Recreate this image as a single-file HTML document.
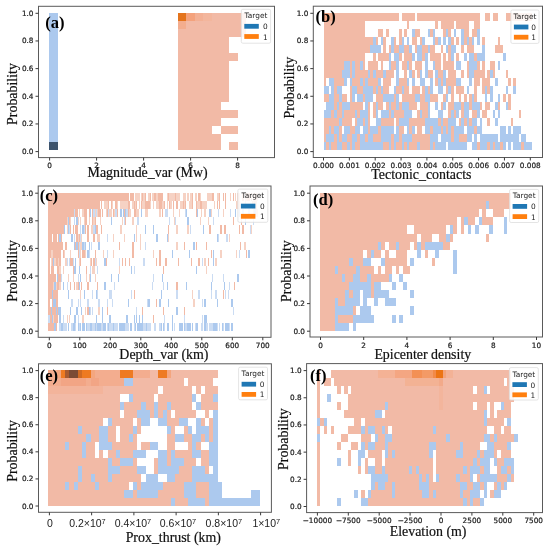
<!DOCTYPE html>
<html><head><meta charset="utf-8"><title>Probability histograms</title>
<style>html,body{margin:0;padding:0;background:#fff;}svg{display:block;filter:blur(0.3px);}</style></head>
<body><svg width="549" height="550" viewBox="0 0 549 550">
<rect width="549" height="550" fill="#fff"/>
<path shape-rendering="crispEdges" fill="#e4741c" d="M177.80 12.90h8.55v8.09h-8.55z"/>
<path shape-rendering="crispEdges" fill="#f4a27c" d="M186.35 12.90h8.55v8.09h-8.55z"/>
<path shape-rendering="crispEdges" fill="#f3b094" d="M194.90 12.90h8.55v8.09h-8.55z"/>
<path shape-rendering="crispEdges" fill="#f3b69d" d="M203.45 12.90h8.55v8.09h-8.55z"/>
<path shape-rendering="crispEdges" fill="#f2baa6" d="M212.00 12.90h34.20v8.09h-34.20zM186.35 20.99h59.85v8.09h-59.85zM177.80 29.08h68.40v8.09h-68.40zM177.80 37.17h51.30v8.09h-51.30zM177.80 45.26h51.30v8.09h-51.30zM177.80 53.35h59.85v8.09h-59.85zM177.80 61.44h51.30v8.09h-51.30zM177.80 69.53h51.30v8.09h-51.30zM177.80 77.62h51.30v8.09h-51.30zM177.80 85.71h51.30v8.09h-51.30zM177.80 93.80h51.30v8.09h-51.30zM177.80 101.89h42.75v8.09h-42.75zM177.80 109.98h59.85v8.09h-59.85zM177.80 118.07h42.75v8.09h-42.75zM177.80 126.16h34.20v8.09h-34.20zM220.55 126.16h17.10v8.09h-17.10zM177.80 134.25h42.75v8.09h-42.75zM177.80 142.34h42.75v8.09h-42.75zM229.10 142.34h8.55v8.09h-8.55z"/>
<path shape-rendering="crispEdges" fill="#f3ad8e" d="M177.80 20.99h8.55v8.09h-8.55z"/>
<path shape-rendering="crispEdges" fill="#acc9ee" d="M49.20 12.90h8.80v8.09h-8.80zM49.20 20.99h8.80v8.09h-8.80zM49.20 29.08h8.80v8.09h-8.80zM49.20 37.17h8.80v8.09h-8.80zM49.20 45.26h8.80v8.09h-8.80zM49.20 53.35h8.80v8.09h-8.80zM49.20 61.44h8.80v8.09h-8.80zM49.20 69.53h8.80v8.09h-8.80zM49.20 77.62h8.80v8.09h-8.80zM49.20 85.71h8.80v8.09h-8.80zM49.20 93.80h8.80v8.09h-8.80zM49.20 101.89h8.80v8.09h-8.80zM49.20 109.98h8.80v8.09h-8.80zM49.20 118.07h8.80v8.09h-8.80zM49.20 126.16h8.80v8.09h-8.80zM49.20 134.25h8.80v8.09h-8.80z"/>
<path shape-rendering="crispEdges" fill="#3d546e" d="M49.20 142.34h8.80v8.09h-8.80z"/>
<path shape-rendering="crispEdges" fill="#f2baa6" d="M323.50 12.90h75.40v8.09h-75.40zM401.50 12.90h13.00v8.09h-13.00zM417.10 12.90h62.40v8.09h-62.40zM484.70 12.90h5.20v8.09h-5.20zM492.50 12.90h5.20v8.09h-5.20zM505.50 12.90h26.00v8.09h-26.00zM323.50 20.99h41.60v8.09h-41.60zM406.70 20.99h2.60v8.09h-2.60zM435.30 20.99h2.60v8.09h-2.60zM440.50 20.99h13.00v8.09h-13.00zM456.10 20.99h13.00v8.09h-13.00zM474.30 20.99h5.20v8.09h-5.20zM323.50 29.08h41.60v8.09h-41.60zM378.10 29.08h5.20v8.09h-5.20zM385.90 29.08h2.60v8.09h-2.60zM398.90 29.08h2.60v8.09h-2.60zM404.10 29.08h2.60v8.09h-2.60zM414.50 29.08h5.20v8.09h-5.20zM430.10 29.08h2.60v8.09h-2.60zM443.10 29.08h2.60v8.09h-2.60zM448.30 29.08h2.60v8.09h-2.60zM463.90 29.08h5.20v8.09h-5.20zM471.70 29.08h5.20v8.09h-5.20zM323.50 37.17h49.40v8.09h-49.40zM375.50 37.17h2.60v8.09h-2.60zM383.30 37.17h2.60v8.09h-2.60zM393.70 37.17h2.60v8.09h-2.60zM398.90 37.17h2.60v8.09h-2.60zM411.90 37.17h5.20v8.09h-5.20zM419.70 37.17h2.60v8.09h-2.60zM435.30 37.17h2.60v8.09h-2.60zM450.90 37.17h2.60v8.09h-2.60zM456.10 37.17h2.60v8.09h-2.60zM463.90 37.17h2.60v8.09h-2.60zM469.10 37.17h2.60v8.09h-2.60zM482.10 37.17h2.60v8.09h-2.60zM497.70 37.17h2.60v8.09h-2.60zM323.50 45.26h46.80v8.09h-46.80zM383.30 45.26h2.60v8.09h-2.60zM388.50 45.26h2.60v8.09h-2.60zM393.70 45.26h5.20v8.09h-5.20zM404.10 45.26h5.20v8.09h-5.20zM414.50 45.26h2.60v8.09h-2.60zM422.30 45.26h5.20v8.09h-5.20zM430.10 45.26h5.20v8.09h-5.20zM440.50 45.26h2.60v8.09h-2.60zM448.30 45.26h2.60v8.09h-2.60zM461.30 45.26h2.60v8.09h-2.60zM466.50 45.26h7.80v8.09h-7.80zM495.10 45.26h7.80v8.09h-7.80zM323.50 53.35h41.60v8.09h-41.60zM372.90 53.35h2.60v8.09h-2.60zM378.10 53.35h10.40v8.09h-10.40zM398.90 53.35h2.60v8.09h-2.60zM404.10 53.35h7.80v8.09h-7.80zM422.30 53.35h2.60v8.09h-2.60zM430.10 53.35h10.40v8.09h-10.40zM443.10 53.35h2.60v8.09h-2.60zM448.30 53.35h2.60v8.09h-2.60zM456.10 53.35h2.60v8.09h-2.60zM474.30 53.35h2.60v8.09h-2.60zM323.50 61.44h20.80v8.09h-20.80zM349.50 61.44h2.60v8.09h-2.60zM354.70 61.44h5.20v8.09h-5.20zM362.50 61.44h2.60v8.09h-2.60zM367.70 61.44h10.40v8.09h-10.40zM380.70 61.44h2.60v8.09h-2.60zM391.10 61.44h5.20v8.09h-5.20zM401.50 61.44h5.20v8.09h-5.20zM409.30 61.44h2.60v8.09h-2.60zM414.50 61.44h7.80v8.09h-7.80zM435.30 61.44h5.20v8.09h-5.20zM443.10 61.44h10.40v8.09h-10.40zM466.50 61.44h2.60v8.09h-2.60zM476.90 61.44h2.60v8.09h-2.60zM482.10 61.44h2.60v8.09h-2.60zM489.90 61.44h5.20v8.09h-5.20zM323.50 69.53h18.20v8.09h-18.20zM349.50 69.53h2.60v8.09h-2.60zM354.70 69.53h13.00v8.09h-13.00zM370.30 69.53h2.60v8.09h-2.60zM375.50 69.53h7.80v8.09h-7.80zM385.90 69.53h7.80v8.09h-7.80zM404.10 69.53h2.60v8.09h-2.60zM411.90 69.53h2.60v8.09h-2.60zM417.10 69.53h2.60v8.09h-2.60zM427.50 69.53h5.20v8.09h-5.20zM437.90 69.53h5.20v8.09h-5.20zM448.30 69.53h7.80v8.09h-7.80zM461.30 69.53h2.60v8.09h-2.60zM466.50 69.53h2.60v8.09h-2.60zM474.30 69.53h10.40v8.09h-10.40zM487.30 69.53h2.60v8.09h-2.60zM492.50 69.53h2.60v8.09h-2.60zM505.50 69.53h2.60v8.09h-2.60zM323.50 77.62h2.60v8.09h-2.60zM333.90 77.62h10.40v8.09h-10.40zM352.10 77.62h7.80v8.09h-7.80zM362.50 77.62h2.60v8.09h-2.60zM367.70 77.62h10.40v8.09h-10.40zM383.30 77.62h7.80v8.09h-7.80zM398.90 77.62h7.80v8.09h-7.80zM435.30 77.62h2.60v8.09h-2.60zM440.50 77.62h2.60v8.09h-2.60zM445.70 77.62h10.40v8.09h-10.40zM474.30 77.62h5.20v8.09h-5.20zM482.10 77.62h7.80v8.09h-7.80zM508.10 77.62h2.60v8.09h-2.60zM513.30 77.62h2.60v8.09h-2.60zM333.90 85.71h2.60v8.09h-2.60zM349.50 85.71h2.60v8.09h-2.60zM357.30 85.71h5.20v8.09h-5.20zM372.90 85.71h2.60v8.09h-2.60zM378.10 85.71h2.60v8.09h-2.60zM383.30 85.71h5.20v8.09h-5.20zM396.30 85.71h5.20v8.09h-5.20zM404.10 85.71h5.20v8.09h-5.20zM411.90 85.71h7.80v8.09h-7.80zM422.30 85.71h2.60v8.09h-2.60zM427.50 85.71h2.60v8.09h-2.60zM445.70 85.71h2.60v8.09h-2.60zM450.90 85.71h2.60v8.09h-2.60zM456.10 85.71h7.80v8.09h-7.80zM474.30 85.71h2.60v8.09h-2.60zM482.10 85.71h2.60v8.09h-2.60zM487.30 85.71h2.60v8.09h-2.60zM323.50 93.80h5.20v8.09h-5.20zM333.90 93.80h5.20v8.09h-5.20zM341.70 93.80h5.20v8.09h-5.20zM349.50 93.80h2.60v8.09h-2.60zM362.50 93.80h2.60v8.09h-2.60zM375.50 93.80h7.80v8.09h-7.80zM393.70 93.80h2.60v8.09h-2.60zM401.50 93.80h13.00v8.09h-13.00zM419.70 93.80h5.20v8.09h-5.20zM430.10 93.80h7.80v8.09h-7.80zM443.10 93.80h2.60v8.09h-2.60zM450.90 93.80h2.60v8.09h-2.60zM458.70 93.80h2.60v8.09h-2.60zM463.90 93.80h2.60v8.09h-2.60zM469.10 93.80h2.60v8.09h-2.60zM474.30 93.80h2.60v8.09h-2.60zM502.90 93.80h2.60v8.09h-2.60zM508.10 93.80h2.60v8.09h-2.60zM333.90 101.89h2.60v8.09h-2.60zM339.10 101.89h2.60v8.09h-2.60zM349.50 101.89h13.00v8.09h-13.00zM367.70 101.89h2.60v8.09h-2.60zM372.90 101.89h2.60v8.09h-2.60zM378.10 101.89h5.20v8.09h-5.20zM385.90 101.89h2.60v8.09h-2.60zM391.10 101.89h5.20v8.09h-5.20zM398.90 101.89h2.60v8.09h-2.60zM409.30 101.89h7.80v8.09h-7.80zM419.70 101.89h7.80v8.09h-7.80zM440.50 101.89h2.60v8.09h-2.60zM448.30 101.89h5.20v8.09h-5.20zM461.30 101.89h2.60v8.09h-2.60zM469.10 101.89h2.60v8.09h-2.60zM479.50 101.89h2.60v8.09h-2.60zM484.70 101.89h5.20v8.09h-5.20zM497.70 101.89h2.60v8.09h-2.60zM508.10 101.89h2.60v8.09h-2.60zM331.30 109.98h2.60v8.09h-2.60zM336.50 109.98h5.20v8.09h-5.20zM344.30 109.98h10.40v8.09h-10.40zM357.30 109.98h2.60v8.09h-2.60zM367.70 109.98h2.60v8.09h-2.60zM372.90 109.98h2.60v8.09h-2.60zM388.50 109.98h2.60v8.09h-2.60zM393.70 109.98h10.40v8.09h-10.40zM417.10 109.98h2.60v8.09h-2.60zM422.30 109.98h5.20v8.09h-5.20zM448.30 109.98h2.60v8.09h-2.60zM453.50 109.98h2.60v8.09h-2.60zM461.30 109.98h2.60v8.09h-2.60zM471.70 109.98h5.20v8.09h-5.20zM482.10 109.98h5.20v8.09h-5.20zM518.50 109.98h2.60v8.09h-2.60zM323.50 118.07h15.60v8.09h-15.60zM341.70 118.07h10.40v8.09h-10.40zM354.70 118.07h2.60v8.09h-2.60zM362.50 118.07h2.60v8.09h-2.60zM367.70 118.07h2.60v8.09h-2.60zM380.70 118.07h13.00v8.09h-13.00zM396.30 118.07h2.60v8.09h-2.60zM409.30 118.07h15.60v8.09h-15.60zM437.90 118.07h2.60v8.09h-2.60zM443.10 118.07h5.20v8.09h-5.20zM458.70 118.07h2.60v8.09h-2.60zM463.90 118.07h2.60v8.09h-2.60zM469.10 118.07h2.60v8.09h-2.60zM487.30 118.07h2.60v8.09h-2.60zM510.70 118.07h2.60v8.09h-2.60zM323.50 126.16h5.20v8.09h-5.20zM331.30 126.16h2.60v8.09h-2.60zM339.10 126.16h2.60v8.09h-2.60zM349.50 126.16h5.20v8.09h-5.20zM367.70 126.16h2.60v8.09h-2.60zM378.10 126.16h2.60v8.09h-2.60zM398.90 126.16h5.20v8.09h-5.20zM409.30 126.16h2.60v8.09h-2.60zM417.10 126.16h5.20v8.09h-5.20zM430.10 126.16h2.60v8.09h-2.60zM440.50 126.16h2.60v8.09h-2.60zM445.70 126.16h2.60v8.09h-2.60zM450.90 126.16h2.60v8.09h-2.60zM474.30 126.16h2.60v8.09h-2.60zM323.50 134.25h2.60v8.09h-2.60zM333.90 134.25h2.60v8.09h-2.60zM339.10 134.25h2.60v8.09h-2.60zM346.90 134.25h5.20v8.09h-5.20zM357.30 134.25h2.60v8.09h-2.60zM365.10 134.25h2.60v8.09h-2.60zM372.90 134.25h7.80v8.09h-7.80zM391.10 134.25h2.60v8.09h-2.60zM398.90 134.25h2.60v8.09h-2.60zM411.90 134.25h18.20v8.09h-18.20zM450.90 134.25h2.60v8.09h-2.60zM458.70 134.25h7.80v8.09h-7.80zM326.10 142.34h2.60v8.09h-2.60zM331.30 142.34h5.20v8.09h-5.20zM341.70 142.34h5.20v8.09h-5.20zM349.50 142.34h2.60v8.09h-2.60zM354.70 142.34h5.20v8.09h-5.20zM383.30 142.34h5.20v8.09h-5.20zM391.10 142.34h2.60v8.09h-2.60zM396.30 142.34h5.20v8.09h-5.20zM404.10 142.34h2.60v8.09h-2.60zM409.30 142.34h7.80v8.09h-7.80zM419.70 142.34h10.40v8.09h-10.40zM432.70 142.34h2.60v8.09h-2.60zM476.90 142.34h2.60v8.09h-2.60zM487.30 142.34h2.60v8.09h-2.60zM492.50 142.34h2.60v8.09h-2.60zM500.30 142.34h2.60v8.09h-2.60zM521.10 142.34h2.60v8.09h-2.60z"/>
<path shape-rendering="crispEdges" fill="#acc9ee" d="M411.90 29.08h2.60v8.09h-2.60zM427.50 29.08h2.60v8.09h-2.60zM432.70 29.08h2.60v8.09h-2.60zM445.70 29.08h2.60v8.09h-2.60zM453.50 29.08h2.60v8.09h-2.60zM461.30 29.08h2.60v8.09h-2.60zM476.90 29.08h2.60v8.09h-2.60zM372.90 37.17h2.60v8.09h-2.60zM380.70 37.17h2.60v8.09h-2.60zM391.10 37.17h2.60v8.09h-2.60zM401.50 37.17h2.60v8.09h-2.60zM406.70 37.17h2.60v8.09h-2.60zM422.30 37.17h2.60v8.09h-2.60zM432.70 37.17h2.60v8.09h-2.60zM437.90 37.17h2.60v8.09h-2.60zM443.10 37.17h2.60v8.09h-2.60zM448.30 37.17h2.60v8.09h-2.60zM461.30 37.17h2.60v8.09h-2.60zM466.50 37.17h2.60v8.09h-2.60zM471.70 37.17h2.60v8.09h-2.60zM476.90 37.17h2.60v8.09h-2.60zM370.30 45.26h10.40v8.09h-10.40zM391.10 45.26h2.60v8.09h-2.60zM398.90 45.26h5.20v8.09h-5.20zM409.30 45.26h2.60v8.09h-2.60zM417.10 45.26h5.20v8.09h-5.20zM427.50 45.26h2.60v8.09h-2.60zM445.70 45.26h2.60v8.09h-2.60zM450.90 45.26h5.20v8.09h-5.20zM482.10 45.26h2.60v8.09h-2.60zM388.50 53.35h2.60v8.09h-2.60zM393.70 53.35h5.20v8.09h-5.20zM411.90 53.35h2.60v8.09h-2.60zM417.10 53.35h5.20v8.09h-5.20zM424.90 53.35h2.60v8.09h-2.60zM450.90 53.35h2.60v8.09h-2.60zM463.90 53.35h2.60v8.09h-2.60zM469.10 53.35h5.20v8.09h-5.20zM476.90 53.35h7.80v8.09h-7.80zM502.90 53.35h2.60v8.09h-2.60zM344.30 61.44h5.20v8.09h-5.20zM352.10 61.44h2.60v8.09h-2.60zM359.90 61.44h2.60v8.09h-2.60zM388.50 61.44h2.60v8.09h-2.60zM396.30 61.44h2.60v8.09h-2.60zM406.70 61.44h2.60v8.09h-2.60zM424.90 61.44h2.60v8.09h-2.60zM432.70 61.44h2.60v8.09h-2.60zM456.10 61.44h5.20v8.09h-5.20zM469.10 61.44h7.80v8.09h-7.80zM497.70 61.44h2.60v8.09h-2.60zM341.70 69.53h7.80v8.09h-7.80zM352.10 69.53h2.60v8.09h-2.60zM367.70 69.53h2.60v8.09h-2.60zM372.90 69.53h2.60v8.09h-2.60zM383.30 69.53h2.60v8.09h-2.60zM396.30 69.53h2.60v8.09h-2.60zM409.30 69.53h2.60v8.09h-2.60zM419.70 69.53h2.60v8.09h-2.60zM424.90 69.53h2.60v8.09h-2.60zM435.30 69.53h2.60v8.09h-2.60zM443.10 69.53h2.60v8.09h-2.60zM469.10 69.53h5.20v8.09h-5.20zM489.90 69.53h2.60v8.09h-2.60zM328.70 77.62h5.20v8.09h-5.20zM344.30 77.62h2.60v8.09h-2.60zM349.50 77.62h2.60v8.09h-2.60zM359.90 77.62h2.60v8.09h-2.60zM365.10 77.62h2.60v8.09h-2.60zM378.10 77.62h2.60v8.09h-2.60zM396.30 77.62h2.60v8.09h-2.60zM406.70 77.62h2.60v8.09h-2.60zM411.90 77.62h2.60v8.09h-2.60zM419.70 77.62h5.20v8.09h-5.20zM430.10 77.62h2.60v8.09h-2.60zM437.90 77.62h2.60v8.09h-2.60zM443.10 77.62h2.60v8.09h-2.60zM456.10 77.62h5.20v8.09h-5.20zM469.10 77.62h2.60v8.09h-2.60zM495.10 77.62h2.60v8.09h-2.60zM323.50 85.71h5.20v8.09h-5.20zM331.30 85.71h2.60v8.09h-2.60zM336.50 85.71h5.20v8.09h-5.20zM352.10 85.71h5.20v8.09h-5.20zM362.50 85.71h10.40v8.09h-10.40zM375.50 85.71h2.60v8.09h-2.60zM380.70 85.71h2.60v8.09h-2.60zM393.70 85.71h2.60v8.09h-2.60zM401.50 85.71h2.60v8.09h-2.60zM424.90 85.71h2.60v8.09h-2.60zM430.10 85.71h2.60v8.09h-2.60zM437.90 85.71h5.20v8.09h-5.20zM448.30 85.71h2.60v8.09h-2.60zM466.50 85.71h2.60v8.09h-2.60zM484.70 85.71h2.60v8.09h-2.60zM489.90 85.71h2.60v8.09h-2.60zM505.50 85.71h2.60v8.09h-2.60zM513.30 85.71h2.60v8.09h-2.60zM328.70 93.80h5.20v8.09h-5.20zM339.10 93.80h2.60v8.09h-2.60zM352.10 93.80h2.60v8.09h-2.60zM357.30 93.80h5.20v8.09h-5.20zM365.10 93.80h7.80v8.09h-7.80zM383.30 93.80h10.40v8.09h-10.40zM396.30 93.80h2.60v8.09h-2.60zM414.50 93.80h5.20v8.09h-5.20zM424.90 93.80h5.20v8.09h-5.20zM445.70 93.80h2.60v8.09h-2.60zM471.70 93.80h2.60v8.09h-2.60zM484.70 93.80h2.60v8.09h-2.60zM489.90 93.80h2.60v8.09h-2.60zM497.70 93.80h2.60v8.09h-2.60zM326.10 101.89h7.80v8.09h-7.80zM336.50 101.89h2.60v8.09h-2.60zM341.70 101.89h7.80v8.09h-7.80zM365.10 101.89h2.60v8.09h-2.60zM375.50 101.89h2.60v8.09h-2.60zM388.50 101.89h2.60v8.09h-2.60zM396.30 101.89h2.60v8.09h-2.60zM401.50 101.89h7.80v8.09h-7.80zM427.50 101.89h2.60v8.09h-2.60zM435.30 101.89h2.60v8.09h-2.60zM443.10 101.89h2.60v8.09h-2.60zM453.50 101.89h7.80v8.09h-7.80zM463.90 101.89h5.20v8.09h-5.20zM471.70 101.89h7.80v8.09h-7.80zM495.10 101.89h2.60v8.09h-2.60zM505.50 101.89h2.60v8.09h-2.60zM323.50 109.98h7.80v8.09h-7.80zM333.90 109.98h2.60v8.09h-2.60zM341.70 109.98h2.60v8.09h-2.60zM354.70 109.98h2.60v8.09h-2.60zM359.90 109.98h7.80v8.09h-7.80zM375.50 109.98h2.60v8.09h-2.60zM380.70 109.98h7.80v8.09h-7.80zM391.10 109.98h2.60v8.09h-2.60zM404.10 109.98h7.80v8.09h-7.80zM419.70 109.98h2.60v8.09h-2.60zM427.50 109.98h2.60v8.09h-2.60zM437.90 109.98h5.20v8.09h-5.20zM450.90 109.98h2.60v8.09h-2.60zM456.10 109.98h2.60v8.09h-2.60zM463.90 109.98h5.20v8.09h-5.20zM476.90 109.98h2.60v8.09h-2.60zM492.50 109.98h2.60v8.09h-2.60zM497.70 109.98h2.60v8.09h-2.60zM339.10 118.07h2.60v8.09h-2.60zM357.30 118.07h5.20v8.09h-5.20zM365.10 118.07h2.60v8.09h-2.60zM375.50 118.07h5.20v8.09h-5.20zM398.90 118.07h10.40v8.09h-10.40zM424.90 118.07h13.00v8.09h-13.00zM440.50 118.07h2.60v8.09h-2.60zM448.30 118.07h7.80v8.09h-7.80zM461.30 118.07h2.60v8.09h-2.60zM466.50 118.07h2.60v8.09h-2.60zM471.70 118.07h5.20v8.09h-5.20zM479.50 118.07h2.60v8.09h-2.60zM495.10 118.07h2.60v8.09h-2.60zM328.70 126.16h2.60v8.09h-2.60zM333.90 126.16h5.20v8.09h-5.20zM344.30 126.16h5.20v8.09h-5.20zM354.70 126.16h5.20v8.09h-5.20zM362.50 126.16h5.20v8.09h-5.20zM370.30 126.16h7.80v8.09h-7.80zM380.70 126.16h13.00v8.09h-13.00zM396.30 126.16h2.60v8.09h-2.60zM406.70 126.16h2.60v8.09h-2.60zM411.90 126.16h2.60v8.09h-2.60zM424.90 126.16h5.20v8.09h-5.20zM432.70 126.16h7.80v8.09h-7.80zM443.10 126.16h2.60v8.09h-2.60zM448.30 126.16h2.60v8.09h-2.60zM453.50 126.16h10.40v8.09h-10.40zM466.50 126.16h7.80v8.09h-7.80zM476.90 126.16h5.20v8.09h-5.20zM500.30 126.16h5.20v8.09h-5.20zM508.10 126.16h2.60v8.09h-2.60zM513.30 126.16h7.80v8.09h-7.80zM326.10 134.25h7.80v8.09h-7.80zM336.50 134.25h2.60v8.09h-2.60zM341.70 134.25h5.20v8.09h-5.20zM352.10 134.25h5.20v8.09h-5.20zM359.90 134.25h5.20v8.09h-5.20zM367.70 134.25h5.20v8.09h-5.20zM380.70 134.25h10.40v8.09h-10.40zM393.70 134.25h5.20v8.09h-5.20zM401.50 134.25h10.40v8.09h-10.40zM430.10 134.25h7.80v8.09h-7.80zM440.50 134.25h10.40v8.09h-10.40zM453.50 134.25h5.20v8.09h-5.20zM466.50 134.25h5.20v8.09h-5.20zM474.30 134.25h2.60v8.09h-2.60zM479.50 134.25h18.20v8.09h-18.20zM500.30 134.25h18.20v8.09h-18.20zM521.10 134.25h5.20v8.09h-5.20zM323.50 142.34h2.60v8.09h-2.60zM328.70 142.34h2.60v8.09h-2.60zM336.50 142.34h5.20v8.09h-5.20zM346.90 142.34h2.60v8.09h-2.60zM352.10 142.34h2.60v8.09h-2.60zM359.90 142.34h23.40v8.09h-23.40zM388.50 142.34h2.60v8.09h-2.60zM393.70 142.34h2.60v8.09h-2.60zM401.50 142.34h2.60v8.09h-2.60zM406.70 142.34h2.60v8.09h-2.60zM417.10 142.34h2.60v8.09h-2.60zM430.10 142.34h2.60v8.09h-2.60zM435.30 142.34h10.40v8.09h-10.40zM448.30 142.34h18.20v8.09h-18.20zM471.70 142.34h5.20v8.09h-5.20zM479.50 142.34h7.80v8.09h-7.80zM489.90 142.34h2.60v8.09h-2.60zM495.10 142.34h5.20v8.09h-5.20zM502.90 142.34h2.60v8.09h-2.60zM508.10 142.34h2.60v8.09h-2.60zM513.30 142.34h7.80v8.09h-7.80zM523.70 142.34h7.80v8.09h-7.80z"/>
<path shape-rendering="crispEdges" fill="#f0a584" d="M323.50 12.90h5.20v8.09h-5.20z"/>
<path shape-rendering="crispEdges" fill="#f1b091" d="M328.70 12.90h5.20v8.09h-5.20z"/>
<path shape-rendering="crispEdges" fill="#f2baa6" d="M48.30 193.00h80.52v8.12h-80.52zM130.04 193.00h3.66v8.12h-3.66zM142.24 193.00h1.22v8.12h-1.22zM144.68 193.00h1.22v8.12h-1.22zM149.56 193.00h1.22v8.12h-1.22zM154.44 193.00h1.22v8.12h-1.22zM158.10 193.00h4.88v8.12h-4.88zM167.86 193.00h1.22v8.12h-1.22zM175.18 193.00h1.22v8.12h-1.22zM192.26 193.00h1.22v8.12h-1.22zM198.36 193.00h1.22v8.12h-1.22zM211.78 193.00h2.44v8.12h-2.44zM219.10 193.00h1.22v8.12h-1.22zM222.76 193.00h1.22v8.12h-1.22zM225.20 193.00h1.22v8.12h-1.22zM232.52 193.00h1.22v8.12h-1.22zM242.28 193.00h1.22v8.12h-1.22zM247.16 193.00h2.44v8.12h-2.44zM250.82 193.00h1.22v8.12h-1.22zM48.30 201.12h51.24v8.12h-51.24zM100.76 201.12h1.22v8.12h-1.22zM108.08 201.12h1.22v8.12h-1.22zM110.52 201.12h1.22v8.12h-1.22zM115.40 201.12h1.22v8.12h-1.22zM127.60 201.12h2.44v8.12h-2.44zM133.70 201.12h1.22v8.12h-1.22zM136.14 201.12h1.22v8.12h-1.22zM141.02 201.12h1.22v8.12h-1.22zM144.68 201.12h4.88v8.12h-4.88zM159.32 201.12h2.44v8.12h-2.44zM164.20 201.12h1.22v8.12h-1.22zM169.08 201.12h1.22v8.12h-1.22zM172.74 201.12h1.22v8.12h-1.22zM176.40 201.12h1.22v8.12h-1.22zM182.50 201.12h1.22v8.12h-1.22zM184.94 201.12h1.22v8.12h-1.22zM192.26 201.12h1.22v8.12h-1.22zM195.92 201.12h1.22v8.12h-1.22zM199.58 201.12h2.44v8.12h-2.44zM216.66 201.12h1.22v8.12h-1.22zM219.10 201.12h1.22v8.12h-1.22zM225.20 201.12h1.22v8.12h-1.22zM238.62 201.12h1.22v8.12h-1.22zM252.04 201.12h1.22v8.12h-1.22zM254.48 201.12h2.44v8.12h-2.44zM48.30 209.24h25.62v8.12h-25.62zM75.14 209.24h2.44v8.12h-2.44zM83.68 209.24h3.66v8.12h-3.66zM88.56 209.24h1.22v8.12h-1.22zM92.22 209.24h1.22v8.12h-1.22zM98.32 209.24h2.44v8.12h-2.44zM101.98 209.24h1.22v8.12h-1.22zM106.86 209.24h1.22v8.12h-1.22zM112.96 209.24h1.22v8.12h-1.22zM116.62 209.24h1.22v8.12h-1.22zM123.94 209.24h1.22v8.12h-1.22zM127.60 209.24h1.22v8.12h-1.22zM133.70 209.24h2.44v8.12h-2.44zM161.76 209.24h1.22v8.12h-1.22zM195.92 209.24h1.22v8.12h-1.22zM48.30 217.36h18.30v8.12h-18.30zM69.04 217.36h1.22v8.12h-1.22zM84.90 217.36h2.44v8.12h-2.44zM92.22 217.36h1.22v8.12h-1.22zM94.66 217.36h1.22v8.12h-1.22zM125.16 217.36h1.22v8.12h-1.22zM232.52 217.36h1.22v8.12h-1.22zM241.06 217.36h1.22v8.12h-1.22zM48.30 225.48h15.86v8.12h-15.86zM70.26 225.48h1.22v8.12h-1.22zM72.70 225.48h1.22v8.12h-1.22zM75.14 225.48h2.44v8.12h-2.44zM84.90 225.48h1.22v8.12h-1.22zM87.34 225.48h1.22v8.12h-1.22zM95.88 225.48h2.44v8.12h-2.44zM100.76 225.48h1.22v8.12h-1.22zM167.86 225.48h1.22v8.12h-1.22zM209.34 225.48h1.22v8.12h-1.22zM220.32 225.48h1.22v8.12h-1.22zM223.98 225.48h2.44v8.12h-2.44zM238.62 225.48h1.22v8.12h-1.22zM242.28 225.48h1.22v8.12h-1.22zM48.30 233.60h3.66v8.12h-3.66zM53.18 233.60h3.66v8.12h-3.66zM58.06 233.60h1.22v8.12h-1.22zM60.50 233.60h1.22v8.12h-1.22zM76.36 233.60h1.22v8.12h-1.22zM78.80 233.60h1.22v8.12h-1.22zM87.34 233.60h1.22v8.12h-1.22zM93.44 233.60h1.22v8.12h-1.22zM48.30 241.72h14.64v8.12h-14.64zM65.38 241.72h1.22v8.12h-1.22zM75.14 241.72h1.22v8.12h-1.22zM77.58 241.72h1.22v8.12h-1.22zM119.06 241.72h1.22v8.12h-1.22zM132.48 241.72h1.22v8.12h-1.22zM183.72 241.72h1.22v8.12h-1.22zM195.92 241.72h1.22v8.12h-1.22zM205.68 241.72h1.22v8.12h-1.22zM239.84 241.72h1.22v8.12h-1.22zM48.30 249.84h2.44v8.12h-2.44zM53.18 249.84h7.32v8.12h-7.32zM62.94 249.84h1.22v8.12h-1.22zM77.58 249.84h1.22v8.12h-1.22zM82.46 249.84h2.44v8.12h-2.44zM94.66 249.84h1.22v8.12h-1.22zM132.48 249.84h1.22v8.12h-1.22zM159.32 249.84h1.22v8.12h-1.22zM210.56 249.84h1.22v8.12h-1.22zM245.94 249.84h1.22v8.12h-1.22zM48.30 257.96h1.22v8.12h-1.22zM51.96 257.96h1.22v8.12h-1.22zM55.62 257.96h2.44v8.12h-2.44zM59.28 257.96h1.22v8.12h-1.22zM70.26 257.96h2.44v8.12h-2.44zM80.02 257.96h1.22v8.12h-1.22zM91.00 257.96h1.22v8.12h-1.22zM93.44 257.96h1.22v8.12h-1.22zM105.64 257.96h1.22v8.12h-1.22zM121.50 257.96h1.22v8.12h-1.22zM125.16 257.96h1.22v8.12h-1.22zM128.82 257.96h1.22v8.12h-1.22zM155.66 257.96h1.22v8.12h-1.22zM159.32 257.96h1.22v8.12h-1.22zM165.42 257.96h1.22v8.12h-1.22zM177.62 257.96h1.22v8.12h-1.22zM191.04 257.96h1.22v8.12h-1.22zM198.36 257.96h1.22v8.12h-1.22zM208.12 257.96h1.22v8.12h-1.22zM48.30 266.08h1.22v8.12h-1.22zM50.74 266.08h3.66v8.12h-3.66zM56.84 266.08h2.44v8.12h-2.44zM72.70 266.08h1.22v8.12h-1.22zM86.12 266.08h1.22v8.12h-1.22zM162.98 266.08h1.22v8.12h-1.22zM48.30 274.20h7.32v8.12h-7.32zM58.06 274.20h2.44v8.12h-2.44zM48.30 282.32h4.88v8.12h-4.88zM56.84 282.32h2.44v8.12h-2.44zM70.26 282.32h1.22v8.12h-1.22zM73.92 282.32h1.22v8.12h-1.22zM77.58 282.32h1.22v8.12h-1.22zM81.24 282.32h1.22v8.12h-1.22zM87.34 282.32h1.22v8.12h-1.22zM97.10 282.32h1.22v8.12h-1.22zM176.40 282.32h1.22v8.12h-1.22zM233.74 282.32h1.22v8.12h-1.22zM48.30 290.44h3.66v8.12h-3.66zM53.18 290.44h4.88v8.12h-4.88zM133.70 290.44h1.22v8.12h-1.22zM222.76 290.44h1.22v8.12h-1.22zM48.30 298.56h1.22v8.12h-1.22zM51.96 298.56h1.22v8.12h-1.22zM55.62 298.56h2.44v8.12h-2.44zM155.66 298.56h1.22v8.12h-1.22zM48.30 306.68h2.44v8.12h-2.44zM51.96 306.68h3.66v8.12h-3.66zM56.84 306.68h1.22v8.12h-1.22zM87.34 306.68h1.22v8.12h-1.22zM106.86 306.68h1.22v8.12h-1.22zM142.24 306.68h1.22v8.12h-1.22zM162.98 306.68h1.22v8.12h-1.22zM183.72 306.68h1.22v8.12h-1.22zM49.52 314.80h2.44v8.12h-2.44zM54.40 314.80h3.66v8.12h-3.66zM153.22 314.80h1.22v8.12h-1.22zM48.30 322.92h6.10v8.12h-6.10zM55.62 322.92h1.22v8.12h-1.22z"/>
<path shape-rendering="crispEdges" fill="#f6d2c4" d="M134.92 193.00h4.88v8.12h-4.88zM141.02 193.00h1.22v8.12h-1.22zM143.46 193.00h1.22v8.12h-1.22zM148.34 193.00h1.22v8.12h-1.22zM152.00 193.00h2.44v8.12h-2.44zM155.66 193.00h2.44v8.12h-2.44zM166.64 193.00h1.22v8.12h-1.22zM169.08 193.00h6.10v8.12h-6.10zM176.40 193.00h3.66v8.12h-3.66zM182.50 193.00h3.66v8.12h-3.66zM187.38 193.00h1.22v8.12h-1.22zM189.82 193.00h2.44v8.12h-2.44zM194.70 193.00h2.44v8.12h-2.44zM199.58 193.00h1.22v8.12h-1.22zM206.90 193.00h4.88v8.12h-4.88zM216.66 193.00h2.44v8.12h-2.44zM230.08 193.00h1.22v8.12h-1.22zM234.96 193.00h1.22v8.12h-1.22zM237.40 193.00h2.44v8.12h-2.44zM244.72 193.00h2.44v8.12h-2.44zM253.26 193.00h4.88v8.12h-4.88zM104.42 201.12h3.66v8.12h-3.66zM111.74 201.12h1.22v8.12h-1.22zM116.62 201.12h1.22v8.12h-1.22zM120.28 201.12h7.32v8.12h-7.32zM132.48 201.12h1.22v8.12h-1.22zM134.92 201.12h1.22v8.12h-1.22zM138.58 201.12h1.22v8.12h-1.22zM142.24 201.12h2.44v8.12h-2.44zM149.56 201.12h1.22v8.12h-1.22zM153.22 201.12h1.22v8.12h-1.22zM155.66 201.12h3.66v8.12h-3.66zM161.76 201.12h2.44v8.12h-2.44zM166.64 201.12h1.22v8.12h-1.22zM170.30 201.12h1.22v8.12h-1.22zM180.06 201.12h2.44v8.12h-2.44zM183.72 201.12h1.22v8.12h-1.22zM188.60 201.12h3.66v8.12h-3.66zM197.14 201.12h2.44v8.12h-2.44zM202.02 201.12h4.88v8.12h-4.88zM214.22 201.12h1.22v8.12h-1.22zM236.18 201.12h2.44v8.12h-2.44zM244.72 201.12h1.22v8.12h-1.22zM253.26 201.12h1.22v8.12h-1.22zM78.80 209.24h1.22v8.12h-1.22zM82.46 209.24h1.22v8.12h-1.22zM94.66 209.24h1.22v8.12h-1.22zM97.10 209.24h1.22v8.12h-1.22zM105.64 209.24h1.22v8.12h-1.22zM109.30 209.24h2.44v8.12h-2.44zM114.18 209.24h1.22v8.12h-1.22zM128.82 209.24h2.44v8.12h-2.44zM136.14 209.24h2.44v8.12h-2.44zM144.68 209.24h3.66v8.12h-3.66zM159.32 209.24h1.22v8.12h-1.22zM172.74 209.24h1.22v8.12h-1.22zM178.84 209.24h1.22v8.12h-1.22zM200.80 209.24h1.22v8.12h-1.22zM204.46 209.24h1.22v8.12h-1.22zM210.56 209.24h1.22v8.12h-1.22zM222.76 209.24h1.22v8.12h-1.22zM253.26 209.24h1.22v8.12h-1.22zM255.70 209.24h2.44v8.12h-2.44zM66.60 217.36h1.22v8.12h-1.22zM70.26 217.36h1.22v8.12h-1.22zM77.58 217.36h1.22v8.12h-1.22zM80.02 217.36h1.22v8.12h-1.22zM83.68 217.36h1.22v8.12h-1.22zM88.56 217.36h1.22v8.12h-1.22zM93.44 217.36h1.22v8.12h-1.22zM99.54 217.36h1.22v8.12h-1.22zM121.50 217.36h1.22v8.12h-1.22zM132.48 217.36h1.22v8.12h-1.22zM173.96 217.36h1.22v8.12h-1.22zM199.58 217.36h1.22v8.12h-1.22zM208.12 217.36h1.22v8.12h-1.22zM66.60 225.48h1.22v8.12h-1.22zM91.00 225.48h2.44v8.12h-2.44zM120.28 225.48h1.22v8.12h-1.22zM136.14 225.48h1.22v8.12h-1.22zM176.40 225.48h1.22v8.12h-1.22zM187.38 225.48h1.22v8.12h-1.22zM250.82 225.48h1.22v8.12h-1.22zM77.58 233.60h1.22v8.12h-1.22zM81.24 233.60h1.22v8.12h-1.22zM97.10 233.60h2.44v8.12h-2.44zM112.96 233.60h1.22v8.12h-1.22zM123.94 233.60h1.22v8.12h-1.22zM136.14 233.60h1.22v8.12h-1.22zM139.80 233.60h1.22v8.12h-1.22zM167.86 233.60h1.22v8.12h-1.22zM228.86 233.60h1.22v8.12h-1.22zM80.02 241.72h2.44v8.12h-2.44zM139.80 241.72h1.22v8.12h-1.22zM176.40 241.72h1.22v8.12h-1.22zM243.50 241.72h2.44v8.12h-2.44zM50.74 249.84h2.44v8.12h-2.44zM64.16 249.84h1.22v8.12h-1.22zM70.26 249.84h1.22v8.12h-1.22zM80.02 249.84h1.22v8.12h-1.22zM84.90 249.84h1.22v8.12h-1.22zM103.20 249.84h1.22v8.12h-1.22zM112.96 249.84h1.22v8.12h-1.22zM153.22 249.84h1.22v8.12h-1.22zM220.32 249.84h1.22v8.12h-1.22zM236.18 249.84h1.22v8.12h-1.22zM50.74 257.96h1.22v8.12h-1.22zM54.40 257.96h1.22v8.12h-1.22zM58.06 257.96h1.22v8.12h-1.22zM65.38 257.96h1.22v8.12h-1.22zM78.80 257.96h1.22v8.12h-1.22zM89.78 257.96h1.22v8.12h-1.22zM95.88 257.96h1.22v8.12h-1.22zM204.46 257.96h1.22v8.12h-1.22zM215.44 257.96h1.22v8.12h-1.22zM59.28 266.08h1.22v8.12h-1.22zM62.94 266.08h1.22v8.12h-1.22zM92.22 266.08h2.44v8.12h-2.44zM119.06 266.08h1.22v8.12h-1.22zM205.68 266.08h1.22v8.12h-1.22zM67.82 274.20h1.22v8.12h-1.22zM72.70 274.20h1.22v8.12h-1.22zM86.12 274.20h1.22v8.12h-1.22zM88.56 274.20h1.22v8.12h-1.22zM94.66 274.20h1.22v8.12h-1.22zM53.18 282.32h1.22v8.12h-1.22zM55.62 282.32h1.22v8.12h-1.22zM59.28 282.32h1.22v8.12h-1.22zM76.36 282.32h1.22v8.12h-1.22zM80.02 290.44h1.22v8.12h-1.22zM192.26 290.44h1.22v8.12h-1.22zM193.48 298.56h1.22v8.12h-1.22zM84.90 306.68h1.22v8.12h-1.22zM98.32 306.68h1.22v8.12h-1.22zM53.18 314.80h1.22v8.12h-1.22zM66.60 314.80h1.22v8.12h-1.22zM69.04 314.80h1.22v8.12h-1.22zM82.46 314.80h1.22v8.12h-1.22z"/>
<path shape-rendering="crispEdges" fill="#cbdcf3" d="M73.92 209.24h1.22v8.12h-1.22zM93.44 209.24h1.22v8.12h-1.22zM95.88 209.24h1.22v8.12h-1.22zM108.08 209.24h1.22v8.12h-1.22zM115.40 209.24h1.22v8.12h-1.22zM126.38 209.24h1.22v8.12h-1.22zM165.42 209.24h2.44v8.12h-2.44zM184.94 209.24h1.22v8.12h-1.22zM217.88 209.24h1.22v8.12h-1.22zM230.08 209.24h1.22v8.12h-1.22zM242.28 209.24h1.22v8.12h-1.22zM248.38 209.24h1.22v8.12h-1.22zM73.92 217.36h1.22v8.12h-1.22zM123.94 217.36h1.22v8.12h-1.22zM137.36 217.36h1.22v8.12h-1.22zM169.08 217.36h1.22v8.12h-1.22zM175.18 217.36h1.22v8.12h-1.22zM213.00 217.36h1.22v8.12h-1.22zM253.26 217.36h1.22v8.12h-1.22zM69.04 225.48h1.22v8.12h-1.22zM80.02 225.48h1.22v8.12h-1.22zM83.68 225.48h1.22v8.12h-1.22zM93.44 225.48h1.22v8.12h-1.22zM189.82 225.48h1.22v8.12h-1.22zM249.60 225.48h1.22v8.12h-1.22zM73.92 233.60h1.22v8.12h-1.22zM80.02 233.60h1.22v8.12h-1.22zM106.86 233.60h1.22v8.12h-1.22zM217.88 233.60h1.22v8.12h-1.22zM226.42 233.60h1.22v8.12h-1.22zM78.80 241.72h1.22v8.12h-1.22zM83.68 241.72h1.22v8.12h-1.22zM91.00 241.72h1.22v8.12h-1.22zM144.68 241.72h1.22v8.12h-1.22zM78.80 249.84h1.22v8.12h-1.22zM88.56 249.84h1.22v8.12h-1.22zM106.86 249.84h1.22v8.12h-1.22zM238.62 249.84h1.22v8.12h-1.22zM66.60 257.96h1.22v8.12h-1.22zM69.04 257.96h1.22v8.12h-1.22zM72.70 257.96h1.22v8.12h-1.22zM94.66 257.96h1.22v8.12h-1.22zM119.06 257.96h1.22v8.12h-1.22zM143.46 257.96h1.22v8.12h-1.22zM202.02 257.96h1.22v8.12h-1.22zM89.78 266.08h1.22v8.12h-1.22zM97.10 266.08h1.22v8.12h-1.22zM133.70 266.08h1.22v8.12h-1.22zM60.50 274.20h1.22v8.12h-1.22zM77.58 274.20h1.22v8.12h-1.22zM153.22 274.20h1.22v8.12h-1.22zM211.78 274.20h1.22v8.12h-1.22zM222.76 274.20h1.22v8.12h-1.22zM66.60 282.32h1.22v8.12h-1.22zM114.18 282.32h1.22v8.12h-1.22zM152.00 282.32h1.22v8.12h-1.22zM162.98 282.32h1.22v8.12h-1.22zM228.86 282.32h1.22v8.12h-1.22zM92.22 290.44h1.22v8.12h-1.22zM97.10 290.44h1.22v8.12h-1.22zM109.30 290.44h2.44v8.12h-2.44zM131.26 290.44h1.22v8.12h-1.22zM176.40 290.44h1.22v8.12h-1.22zM198.36 290.44h1.22v8.12h-1.22zM210.56 290.44h1.22v8.12h-1.22zM215.44 290.44h1.22v8.12h-1.22zM225.20 290.44h1.22v8.12h-1.22zM227.64 290.44h1.22v8.12h-1.22zM71.48 298.56h1.22v8.12h-1.22zM77.58 298.56h1.22v8.12h-1.22zM80.02 298.56h1.22v8.12h-1.22zM87.34 298.56h1.22v8.12h-1.22zM98.32 298.56h1.22v8.12h-1.22zM106.86 298.56h1.22v8.12h-1.22zM111.74 298.56h1.22v8.12h-1.22zM147.12 298.56h1.22v8.12h-1.22zM202.02 298.56h1.22v8.12h-1.22zM89.78 306.68h1.22v8.12h-1.22zM92.22 306.68h1.22v8.12h-1.22zM136.14 306.68h1.22v8.12h-1.22zM232.52 306.68h1.22v8.12h-1.22zM48.30 314.80h1.22v8.12h-1.22zM62.94 314.80h1.22v8.12h-1.22zM77.58 314.80h1.22v8.12h-1.22zM164.20 314.80h1.22v8.12h-1.22zM183.72 314.80h1.22v8.12h-1.22zM202.02 314.80h1.22v8.12h-1.22zM59.28 322.92h1.22v8.12h-1.22zM62.94 322.92h3.66v8.12h-3.66zM71.48 322.92h1.22v8.12h-1.22zM75.14 322.92h1.22v8.12h-1.22zM78.80 322.92h1.22v8.12h-1.22zM87.34 322.92h2.44v8.12h-2.44zM92.22 322.92h2.44v8.12h-2.44zM95.88 322.92h1.22v8.12h-1.22zM100.76 322.92h2.44v8.12h-2.44zM106.86 322.92h1.22v8.12h-1.22zM109.30 322.92h3.66v8.12h-3.66zM114.18 322.92h3.66v8.12h-3.66zM125.16 322.92h3.66v8.12h-3.66zM133.70 322.92h1.22v8.12h-1.22zM143.46 322.92h2.44v8.12h-2.44zM147.12 322.92h3.66v8.12h-3.66zM154.44 322.92h1.22v8.12h-1.22zM159.32 322.92h1.22v8.12h-1.22zM164.20 322.92h1.22v8.12h-1.22zM173.96 322.92h1.22v8.12h-1.22zM184.94 322.92h2.44v8.12h-2.44zM194.70 322.92h1.22v8.12h-1.22zM200.80 322.92h2.44v8.12h-2.44zM205.68 322.92h2.44v8.12h-2.44zM209.34 322.92h3.66v8.12h-3.66zM216.66 322.92h1.22v8.12h-1.22zM219.10 322.92h1.22v8.12h-1.22zM222.76 322.92h1.22v8.12h-1.22zM228.86 322.92h1.22v8.12h-1.22z"/>
<path shape-rendering="crispEdges" fill="#acc9ee" d="M89.78 209.24h1.22v8.12h-1.22zM120.28 209.24h1.22v8.12h-1.22zM122.72 209.24h1.22v8.12h-1.22zM125.16 209.24h1.22v8.12h-1.22zM141.02 209.24h1.22v8.12h-1.22zM186.16 209.24h1.22v8.12h-1.22zM197.14 209.24h1.22v8.12h-1.22zM209.34 209.24h1.22v8.12h-1.22zM234.96 209.24h1.22v8.12h-1.22zM238.62 209.24h1.22v8.12h-1.22zM254.48 209.24h1.22v8.12h-1.22zM67.82 217.36h1.22v8.12h-1.22zM76.36 217.36h1.22v8.12h-1.22zM110.52 217.36h1.22v8.12h-1.22zM187.38 217.36h1.22v8.12h-1.22zM244.72 217.36h1.22v8.12h-1.22zM64.16 225.48h1.22v8.12h-1.22zM67.82 225.48h1.22v8.12h-1.22zM82.46 225.48h1.22v8.12h-1.22zM94.66 225.48h1.22v8.12h-1.22zM144.68 225.48h1.22v8.12h-1.22zM153.22 225.48h1.22v8.12h-1.22zM203.24 225.48h1.22v8.12h-1.22zM59.28 233.60h1.22v8.12h-1.22zM71.48 233.60h1.22v8.12h-1.22zM133.70 233.60h1.22v8.12h-1.22zM155.66 233.60h2.44v8.12h-2.44zM166.64 233.60h1.22v8.12h-1.22zM216.66 233.60h1.22v8.12h-1.22zM73.92 241.72h1.22v8.12h-1.22zM76.36 241.72h1.22v8.12h-1.22zM82.46 241.72h1.22v8.12h-1.22zM84.90 241.72h1.22v8.12h-1.22zM88.56 241.72h1.22v8.12h-1.22zM98.32 241.72h1.22v8.12h-1.22zM193.48 241.72h1.22v8.12h-1.22zM87.34 249.84h1.22v8.12h-1.22zM171.52 249.84h1.22v8.12h-1.22zM188.60 249.84h1.22v8.12h-1.22zM213.00 249.84h1.22v8.12h-1.22zM248.38 249.84h1.22v8.12h-1.22zM53.18 257.96h1.22v8.12h-1.22zM75.14 257.96h1.22v8.12h-1.22zM104.42 257.96h1.22v8.12h-1.22zM213.00 257.96h1.22v8.12h-1.22zM73.92 266.08h2.44v8.12h-2.44zM78.80 266.08h1.22v8.12h-1.22zM131.26 266.08h1.22v8.12h-1.22zM195.92 266.08h1.22v8.12h-1.22zM56.84 274.20h1.22v8.12h-1.22zM80.02 274.20h1.22v8.12h-1.22zM89.78 274.20h1.22v8.12h-1.22zM110.52 274.20h1.22v8.12h-1.22zM117.84 274.20h1.22v8.12h-1.22zM161.76 274.20h1.22v8.12h-1.22zM237.40 274.20h1.22v8.12h-1.22zM54.40 282.32h1.22v8.12h-1.22zM62.94 282.32h1.22v8.12h-1.22zM78.80 282.32h1.22v8.12h-1.22zM104.42 282.32h1.22v8.12h-1.22zM166.64 282.32h1.22v8.12h-1.22zM186.16 282.32h1.22v8.12h-1.22zM210.56 282.32h1.22v8.12h-1.22zM223.98 282.32h1.22v8.12h-1.22zM51.96 290.44h1.22v8.12h-1.22zM67.82 290.44h1.22v8.12h-1.22zM83.68 290.44h1.22v8.12h-1.22zM95.88 290.44h1.22v8.12h-1.22zM160.54 290.44h1.22v8.12h-1.22zM53.18 298.56h2.44v8.12h-2.44zM127.60 298.56h1.22v8.12h-1.22zM148.34 298.56h1.22v8.12h-1.22zM159.32 298.56h1.22v8.12h-1.22zM167.86 298.56h1.22v8.12h-1.22zM204.46 298.56h1.22v8.12h-1.22zM216.66 298.56h1.22v8.12h-1.22zM231.30 298.56h1.22v8.12h-1.22zM50.74 306.68h1.22v8.12h-1.22zM55.62 306.68h1.22v8.12h-1.22zM58.06 306.68h2.44v8.12h-2.44zM70.26 306.68h1.22v8.12h-1.22zM76.36 306.68h1.22v8.12h-1.22zM81.24 306.68h1.22v8.12h-1.22zM88.56 306.68h1.22v8.12h-1.22zM101.98 306.68h1.22v8.12h-1.22zM176.40 306.68h1.22v8.12h-1.22zM51.96 314.80h1.22v8.12h-1.22zM59.28 314.80h1.22v8.12h-1.22zM73.92 314.80h2.44v8.12h-2.44zM95.88 314.80h1.22v8.12h-1.22zM101.98 314.80h1.22v8.12h-1.22zM109.30 314.80h1.22v8.12h-1.22zM126.38 314.80h1.22v8.12h-1.22zM133.70 314.80h1.22v8.12h-1.22zM136.14 314.80h1.22v8.12h-1.22zM138.58 314.80h1.22v8.12h-1.22zM142.24 314.80h1.22v8.12h-1.22zM171.52 314.80h1.22v8.12h-1.22zM204.46 314.80h2.44v8.12h-2.44zM54.40 322.92h1.22v8.12h-1.22zM60.50 322.92h2.44v8.12h-2.44zM67.82 322.92h1.22v8.12h-1.22zM72.70 322.92h2.44v8.12h-2.44zM77.58 322.92h1.22v8.12h-1.22zM80.02 322.92h1.22v8.12h-1.22zM82.46 322.92h2.44v8.12h-2.44zM86.12 322.92h1.22v8.12h-1.22zM89.78 322.92h2.44v8.12h-2.44zM94.66 322.92h1.22v8.12h-1.22zM97.10 322.92h3.66v8.12h-3.66zM103.20 322.92h2.44v8.12h-2.44zM108.08 322.92h1.22v8.12h-1.22zM112.96 322.92h1.22v8.12h-1.22zM119.06 322.92h6.10v8.12h-6.10zM130.04 322.92h2.44v8.12h-2.44zM134.92 322.92h1.22v8.12h-1.22zM137.36 322.92h6.10v8.12h-6.10zM145.90 322.92h1.22v8.12h-1.22zM160.54 322.92h1.22v8.12h-1.22zM162.98 322.92h1.22v8.12h-1.22zM166.64 322.92h2.44v8.12h-2.44zM171.52 322.92h1.22v8.12h-1.22zM178.84 322.92h3.66v8.12h-3.66zM183.72 322.92h1.22v8.12h-1.22zM187.38 322.92h3.66v8.12h-3.66zM192.26 322.92h1.22v8.12h-1.22zM195.92 322.92h2.44v8.12h-2.44zM204.46 322.92h1.22v8.12h-1.22zM213.00 322.92h3.66v8.12h-3.66zM221.54 322.92h1.22v8.12h-1.22zM225.20 322.92h3.66v8.12h-3.66zM231.30 322.92h1.22v8.12h-1.22z"/>
<path shape-rendering="crispEdges" fill="#f2baa6" d="M320.20 193.00h190.80v8.10h-190.80zM320.20 201.10h165.60v8.10h-165.60zM489.40 201.10h21.60v8.10h-21.60zM320.20 209.20h158.40v8.10h-158.40zM482.20 209.20h3.60v8.10h-3.60zM493.00 209.20h10.80v8.10h-10.80zM320.20 217.30h136.80v8.10h-136.80zM460.60 217.30h3.60v8.10h-3.60zM467.80 217.30h7.20v8.10h-7.20zM482.20 217.30h10.80v8.10h-10.80zM320.20 225.40h86.40v8.10h-86.40zM413.80 225.40h32.40v8.10h-32.40zM453.40 225.40h3.60v8.10h-3.60zM460.60 225.40h3.60v8.10h-3.60zM320.20 233.50h97.20v8.10h-97.20zM421.00 233.50h10.80v8.10h-10.80zM439.00 233.50h7.20v8.10h-7.20zM449.80 233.50h3.60v8.10h-3.60zM485.80 233.50h3.60v8.10h-3.60zM320.20 241.60h57.60v8.10h-57.60zM381.40 241.60h3.60v8.10h-3.60zM388.60 241.60h7.20v8.10h-7.20zM399.40 241.60h10.80v8.10h-10.80zM413.80 241.60h3.60v8.10h-3.60zM421.00 241.60h3.60v8.10h-3.60zM442.60 241.60h7.20v8.10h-7.20zM320.20 249.70h43.20v8.10h-43.20zM367.00 249.70h3.60v8.10h-3.60zM374.20 249.70h7.20v8.10h-7.20zM385.00 249.70h3.60v8.10h-3.60zM395.80 249.70h10.80v8.10h-10.80zM424.60 249.70h3.60v8.10h-3.60zM320.20 257.80h28.80v8.10h-28.80zM352.60 257.80h10.80v8.10h-10.80zM385.00 257.80h21.60v8.10h-21.60zM431.80 257.80h3.60v8.10h-3.60zM320.20 265.90h14.40v8.10h-14.40zM338.20 265.90h18.00v8.10h-18.00zM359.80 265.90h14.40v8.10h-14.40zM377.80 265.90h3.60v8.10h-3.60zM385.00 265.90h7.20v8.10h-7.20zM395.80 265.90h3.60v8.10h-3.60zM403.00 265.90h7.20v8.10h-7.20zM320.20 274.00h21.60v8.10h-21.60zM345.40 274.00h7.20v8.10h-7.20zM359.80 274.00h7.20v8.10h-7.20zM370.60 274.00h18.00v8.10h-18.00zM320.20 282.10h28.80v8.10h-28.80zM370.60 282.10h3.60v8.10h-3.60zM320.20 290.20h25.20v8.10h-25.20zM349.00 290.20h3.60v8.10h-3.60zM370.60 290.20h3.60v8.10h-3.60zM320.20 298.30h14.40v8.10h-14.40zM338.20 298.30h7.20v8.10h-7.20zM320.20 306.40h14.40v8.10h-14.40zM352.60 306.40h3.60v8.10h-3.60zM320.20 314.50h14.40v8.10h-14.40zM338.20 314.50h14.40v8.10h-14.40zM320.20 322.60h14.40v8.10h-14.40z"/>
<path shape-rendering="crispEdges" fill="#acc9ee" d="M485.80 201.10h3.60v8.10h-3.60zM464.20 217.30h3.60v8.10h-3.60zM478.60 217.30h3.60v8.10h-3.60zM503.80 217.30h3.60v8.10h-3.60zM449.80 225.40h3.60v8.10h-3.60zM467.80 225.40h3.60v8.10h-3.60zM475.00 225.40h3.60v8.10h-3.60zM489.40 225.40h3.60v8.10h-3.60zM503.80 225.40h3.60v8.10h-3.60zM446.20 233.50h3.60v8.10h-3.60zM377.80 241.60h3.60v8.10h-3.60zM395.80 241.60h3.60v8.10h-3.60zM417.40 241.60h3.60v8.10h-3.60zM424.60 241.60h18.00v8.10h-18.00zM370.60 249.70h3.60v8.10h-3.60zM417.40 249.70h3.60v8.10h-3.60zM435.40 249.70h3.60v8.10h-3.60zM453.40 249.70h3.60v8.10h-3.60zM349.00 257.80h3.60v8.10h-3.60zM363.40 257.80h7.20v8.10h-7.20zM381.40 257.80h3.60v8.10h-3.60zM410.20 257.80h3.60v8.10h-3.60zM453.40 257.80h3.60v8.10h-3.60zM334.60 265.90h3.60v8.10h-3.60zM356.20 265.90h3.60v8.10h-3.60zM453.40 265.90h3.60v8.10h-3.60zM341.80 274.00h3.60v8.10h-3.60zM352.60 274.00h7.20v8.10h-7.20zM367.00 274.00h3.60v8.10h-3.60zM388.60 274.00h3.60v8.10h-3.60zM399.40 274.00h3.60v8.10h-3.60zM349.00 282.10h21.60v8.10h-21.60zM374.20 282.10h7.20v8.10h-7.20zM392.20 282.10h3.60v8.10h-3.60zM403.00 282.10h3.60v8.10h-3.60zM345.40 290.20h3.60v8.10h-3.60zM352.60 290.20h7.20v8.10h-7.20zM363.40 290.20h7.20v8.10h-7.20zM374.20 290.20h14.40v8.10h-14.40zM410.20 290.20h3.60v8.10h-3.60zM334.60 298.30h3.60v8.10h-3.60zM345.40 298.30h14.40v8.10h-14.40zM363.40 298.30h3.60v8.10h-3.60zM374.20 298.30h3.60v8.10h-3.60zM385.00 298.30h10.80v8.10h-10.80zM334.60 306.40h18.00v8.10h-18.00zM359.80 306.40h10.80v8.10h-10.80zM410.20 306.40h3.60v8.10h-3.60zM334.60 314.50h3.60v8.10h-3.60zM352.60 314.50h21.60v8.10h-21.60zM392.20 314.50h3.60v8.10h-3.60zM399.40 314.50h3.60v8.10h-3.60zM334.60 322.60h14.40v8.10h-14.40zM352.60 322.60h3.60v8.10h-3.60z"/>
<path shape-rendering="crispEdges" fill="#f3ad8f" d="M48.30 370.30h8.46v7.98h-8.46zM94.83 370.30h25.38v7.98h-25.38zM132.90 370.30h16.92v7.98h-16.92zM48.30 378.28h12.69v7.98h-12.69zM86.37 378.28h4.23v7.98h-4.23zM99.06 378.28h25.38v7.98h-25.38z"/>
<path shape-rendering="crispEdges" fill="#f4a67f" d="M56.76 370.30h4.23v7.98h-4.23zM90.60 370.30h4.23v7.98h-4.23zM166.74 370.30h4.23v7.98h-4.23z"/>
<path shape-rendering="crispEdges" fill="#ee7a22" d="M60.99 370.30h4.23v7.98h-4.23zM82.14 370.30h8.46v7.98h-8.46zM120.21 370.30h12.69v7.98h-12.69zM158.28 370.30h8.46v7.98h-8.46z"/>
<path shape-rendering="crispEdges" fill="#a85a30" d="M65.22 370.30h4.23v7.98h-4.23z"/>
<path shape-rendering="crispEdges" fill="#7a4b36" d="M69.45 370.30h8.46v7.98h-8.46z"/>
<path shape-rendering="crispEdges" fill="#d06a24" d="M77.91 370.30h4.23v7.98h-4.23z"/>
<path shape-rendering="crispEdges" fill="#f2baa6" d="M149.82 370.30h8.46v7.98h-8.46zM170.97 370.30h46.53v7.98h-46.53zM132.90 378.28h50.76v7.98h-50.76zM187.89 378.28h25.38v7.98h-25.38zM103.29 386.26h54.99v7.98h-54.99zM162.51 386.26h29.61v7.98h-29.61zM196.35 386.26h4.23v7.98h-4.23zM204.81 386.26h12.69v7.98h-12.69zM48.30 394.24h71.91v7.98h-71.91zM132.90 394.24h21.15v7.98h-21.15zM158.28 394.24h33.84v7.98h-33.84zM200.58 394.24h12.69v7.98h-12.69zM48.30 402.22h71.91v7.98h-71.91zM124.44 402.22h16.92v7.98h-16.92zM145.59 402.22h8.46v7.98h-8.46zM158.28 402.22h8.46v7.98h-8.46zM170.97 402.22h21.15v7.98h-21.15zM200.58 402.22h16.92v7.98h-16.92zM48.30 410.20h71.91v7.98h-71.91zM124.44 410.20h12.69v7.98h-12.69zM149.82 410.20h4.23v7.98h-4.23zM158.28 410.20h4.23v7.98h-4.23zM166.74 410.20h4.23v7.98h-4.23zM175.20 410.20h21.15v7.98h-21.15zM204.81 410.20h4.23v7.98h-4.23zM48.30 418.18h54.99v7.98h-54.99zM111.75 418.18h21.15v7.98h-21.15zM137.13 418.18h4.23v7.98h-4.23zM166.74 418.18h12.69v7.98h-12.69zM200.58 418.18h4.23v7.98h-4.23zM209.04 418.18h4.23v7.98h-4.23zM48.30 426.16h29.61v7.98h-29.61zM82.14 426.16h16.92v7.98h-16.92zM107.52 426.16h8.46v7.98h-8.46zM120.21 426.16h12.69v7.98h-12.69zM137.13 426.16h4.23v7.98h-4.23zM170.97 426.16h4.23v7.98h-4.23zM183.66 426.16h4.23v7.98h-4.23zM209.04 426.16h4.23v7.98h-4.23zM48.30 434.14h38.07v7.98h-38.07zM90.60 434.14h8.46v7.98h-8.46zM107.52 434.14h8.46v7.98h-8.46zM120.21 434.14h8.46v7.98h-8.46zM132.90 434.14h4.23v7.98h-4.23zM166.74 434.14h8.46v7.98h-8.46zM183.66 434.14h8.46v7.98h-8.46zM200.58 434.14h4.23v7.98h-4.23zM209.04 434.14h4.23v7.98h-4.23zM48.30 442.12h16.92v7.98h-16.92zM69.45 442.12h12.69v7.98h-12.69zM86.37 442.12h8.46v7.98h-8.46zM111.75 442.12h25.38v7.98h-25.38zM141.36 442.12h8.46v7.98h-8.46zM166.74 442.12h8.46v7.98h-8.46zM187.89 442.12h4.23v7.98h-4.23zM196.35 442.12h4.23v7.98h-4.23zM48.30 450.10h33.84v7.98h-33.84zM86.37 450.10h8.46v7.98h-8.46zM99.06 450.10h4.23v7.98h-4.23zM107.52 450.10h8.46v7.98h-8.46zM120.21 450.10h12.69v7.98h-12.69zM166.74 450.10h4.23v7.98h-4.23zM175.20 450.10h16.92v7.98h-16.92zM200.58 450.10h8.46v7.98h-8.46zM48.30 458.08h59.22v7.98h-59.22zM111.75 458.08h8.46v7.98h-8.46zM132.90 458.08h4.23v7.98h-4.23zM154.05 458.08h4.23v7.98h-4.23zM166.74 458.08h4.23v7.98h-4.23zM183.66 458.08h12.69v7.98h-12.69zM200.58 458.08h8.46v7.98h-8.46zM48.30 466.06h29.61v7.98h-29.61zM82.14 466.06h25.38v7.98h-25.38zM120.21 466.06h16.92v7.98h-16.92zM154.05 466.06h4.23v7.98h-4.23zM179.43 466.06h12.69v7.98h-12.69zM204.81 466.06h4.23v7.98h-4.23zM48.30 474.04h29.61v7.98h-29.61zM82.14 474.04h8.46v7.98h-8.46zM94.83 474.04h12.69v7.98h-12.69zM111.75 474.04h29.61v7.98h-29.61zM175.20 474.04h16.92v7.98h-16.92zM48.30 482.02h16.92v7.98h-16.92zM69.45 482.02h4.23v7.98h-4.23zM77.91 482.02h16.92v7.98h-16.92zM99.06 482.02h29.61v7.98h-29.61zM137.13 482.02h4.23v7.98h-4.23zM162.51 482.02h21.15v7.98h-21.15zM196.35 482.02h12.69v7.98h-12.69zM48.30 490.00h76.14v7.98h-76.14zM132.90 490.00h4.23v7.98h-4.23zM158.28 490.00h25.38v7.98h-25.38zM196.35 490.00h12.69v7.98h-12.69zM48.30 497.98h122.67v7.98h-122.67zM175.20 497.98h12.69v7.98h-12.69zM204.81 497.98h4.23v7.98h-4.23z"/>
<path shape-rendering="crispEdges" fill="#f2a585" d="M60.99 378.28h25.38v7.98h-25.38zM90.60 378.28h8.46v7.98h-8.46z"/>
<path shape-rendering="crispEdges" fill="#acc9ee" d="M124.44 378.28h8.46v7.98h-8.46zM128.67 394.24h4.23v7.98h-4.23zM192.12 394.24h4.23v7.98h-4.23zM213.27 394.24h4.23v7.98h-4.23zM120.21 402.22h4.23v7.98h-4.23zM141.36 402.22h4.23v7.98h-4.23zM154.05 402.22h4.23v7.98h-4.23zM166.74 402.22h4.23v7.98h-4.23zM196.35 402.22h4.23v7.98h-4.23zM137.13 410.20h12.69v7.98h-12.69zM154.05 410.20h4.23v7.98h-4.23zM162.51 410.20h4.23v7.98h-4.23zM213.27 410.20h4.23v7.98h-4.23zM107.52 418.18h4.23v7.98h-4.23zM141.36 418.18h8.46v7.98h-8.46zM158.28 418.18h8.46v7.98h-8.46zM179.43 418.18h8.46v7.98h-8.46zM196.35 418.18h4.23v7.98h-4.23zM213.27 418.18h4.23v7.98h-4.23zM77.91 426.16h4.23v7.98h-4.23zM99.06 426.16h8.46v7.98h-8.46zM132.90 426.16h4.23v7.98h-4.23zM166.74 426.16h4.23v7.98h-4.23zM187.89 426.16h4.23v7.98h-4.23zM196.35 426.16h12.69v7.98h-12.69zM213.27 426.16h4.23v7.98h-4.23zM86.37 434.14h4.23v7.98h-4.23zM99.06 434.14h8.46v7.98h-8.46zM128.67 434.14h4.23v7.98h-4.23zM175.20 434.14h8.46v7.98h-8.46zM192.12 434.14h8.46v7.98h-8.46zM204.81 434.14h4.23v7.98h-4.23zM213.27 434.14h4.23v7.98h-4.23zM65.22 442.12h4.23v7.98h-4.23zM82.14 442.12h4.23v7.98h-4.23zM99.06 442.12h12.69v7.98h-12.69zM149.82 442.12h8.46v7.98h-8.46zM192.12 442.12h4.23v7.98h-4.23zM209.04 442.12h8.46v7.98h-8.46zM82.14 450.10h4.23v7.98h-4.23zM115.98 450.10h4.23v7.98h-4.23zM132.90 450.10h12.69v7.98h-12.69zM158.28 450.10h8.46v7.98h-8.46zM170.97 450.10h4.23v7.98h-4.23zM192.12 450.10h8.46v7.98h-8.46zM209.04 450.10h8.46v7.98h-8.46zM107.52 458.08h4.23v7.98h-4.23zM120.21 458.08h12.69v7.98h-12.69zM158.28 458.08h8.46v7.98h-8.46zM170.97 458.08h12.69v7.98h-12.69zM209.04 458.08h8.46v7.98h-8.46zM77.91 466.06h4.23v7.98h-4.23zM107.52 466.06h12.69v7.98h-12.69zM137.13 466.06h8.46v7.98h-8.46zM158.28 466.06h21.15v7.98h-21.15zM192.12 466.06h12.69v7.98h-12.69zM213.27 466.06h4.23v7.98h-4.23zM77.91 474.04h4.23v7.98h-4.23zM90.60 474.04h4.23v7.98h-4.23zM107.52 474.04h4.23v7.98h-4.23zM145.59 474.04h12.69v7.98h-12.69zM166.74 474.04h8.46v7.98h-8.46zM192.12 474.04h25.38v7.98h-25.38zM65.22 482.02h4.23v7.98h-4.23zM73.68 482.02h4.23v7.98h-4.23zM94.83 482.02h4.23v7.98h-4.23zM132.90 482.02h4.23v7.98h-4.23zM141.36 482.02h21.15v7.98h-21.15zM183.66 482.02h12.69v7.98h-12.69zM209.04 482.02h12.69v7.98h-12.69zM124.44 490.00h8.46v7.98h-8.46zM137.13 490.00h21.15v7.98h-21.15zM183.66 490.00h12.69v7.98h-12.69zM209.04 490.00h12.69v7.98h-12.69zM251.34 490.00h8.46v7.98h-8.46zM170.97 497.98h4.23v7.98h-4.23zM187.89 497.98h16.92v7.98h-16.92zM209.04 497.98h50.76v7.98h-50.76z"/>
<path shape-rendering="crispEdges" fill="#f3b49b" d="M48.30 386.26h54.99v7.98h-54.99z"/>
<path shape-rendering="crispEdges" fill="#f2baa6" d="M316.90 370.30h3.40v7.97h-3.40zM330.50 370.30h47.60v7.97h-47.60zM452.90 370.30h57.80v7.97h-57.80zM316.90 378.27h3.40v7.97h-3.40zM323.70 378.27h6.80v7.97h-6.80zM333.90 378.27h71.40v7.97h-71.40zM442.70 378.27h61.20v7.97h-61.20zM507.30 378.27h3.40v7.97h-3.40zM316.90 386.24h3.40v7.97h-3.40zM337.30 386.24h3.40v7.97h-3.40zM344.10 386.24h3.40v7.97h-3.40zM350.90 386.24h88.40v7.97h-88.40zM442.70 386.24h30.60v7.97h-30.60zM476.70 386.24h6.80v7.97h-6.80zM490.30 386.24h23.80v7.97h-23.80zM316.90 394.21h3.40v7.97h-3.40zM347.50 394.21h91.80v7.97h-91.80zM442.70 394.21h71.40v7.97h-71.40zM316.90 402.18h3.40v7.97h-3.40zM337.30 402.18h3.40v7.97h-3.40zM347.50 402.18h37.40v7.97h-37.40zM388.30 402.18h51.00v7.97h-51.00zM442.70 402.18h30.60v7.97h-30.60zM476.70 402.18h10.20v7.97h-10.20zM490.30 402.18h3.40v7.97h-3.40zM503.90 402.18h6.80v7.97h-6.80zM316.90 410.15h3.40v7.97h-3.40zM344.10 410.15h30.60v7.97h-30.60zM384.90 410.15h98.60v7.97h-98.60zM490.30 410.15h3.40v7.97h-3.40zM497.10 410.15h13.60v7.97h-13.60zM320.30 418.12h3.40v7.97h-3.40zM354.30 418.12h6.80v7.97h-6.80zM364.50 418.12h119.00v7.97h-119.00zM486.90 418.12h17.00v7.97h-17.00zM316.90 426.09h3.40v7.97h-3.40zM323.70 426.09h3.40v7.97h-3.40zM330.50 426.09h3.40v7.97h-3.40zM347.50 426.09h13.60v7.97h-13.60zM364.50 426.09h3.40v7.97h-3.40zM374.70 426.09h6.80v7.97h-6.80zM384.90 426.09h3.40v7.97h-3.40zM391.70 426.09h40.80v7.97h-40.80zM435.90 426.09h51.00v7.97h-51.00zM493.70 426.09h6.80v7.97h-6.80zM503.90 426.09h6.80v7.97h-6.80zM340.70 434.06h6.80v7.97h-6.80zM361.10 434.06h10.20v7.97h-10.20zM378.10 434.06h6.80v7.97h-6.80zM391.70 434.06h54.40v7.97h-54.40zM449.50 434.06h34.00v7.97h-34.00zM490.30 434.06h3.40v7.97h-3.40zM497.10 434.06h17.00v7.97h-17.00zM316.90 442.03h3.40v7.97h-3.40zM337.30 442.03h3.40v7.97h-3.40zM350.90 442.03h6.80v7.97h-6.80zM364.50 442.03h3.40v7.97h-3.40zM374.70 442.03h10.20v7.97h-10.20zM388.30 442.03h40.80v7.97h-40.80zM435.90 442.03h23.80v7.97h-23.80zM463.10 442.03h17.00v7.97h-17.00zM493.70 442.03h13.60v7.97h-13.60zM316.90 450.00h3.40v7.97h-3.40zM347.50 450.00h3.40v7.97h-3.40zM367.90 450.00h13.60v7.97h-13.60zM388.30 450.00h3.40v7.97h-3.40zM395.10 450.00h34.00v7.97h-34.00zM435.90 450.00h20.40v7.97h-20.40zM463.10 450.00h13.60v7.97h-13.60zM480.10 450.00h3.40v7.97h-3.40zM493.70 450.00h3.40v7.97h-3.40zM500.50 450.00h10.20v7.97h-10.20zM316.90 457.97h3.40v7.97h-3.40zM347.50 457.97h3.40v7.97h-3.40zM364.50 457.97h3.40v7.97h-3.40zM374.70 457.97h6.80v7.97h-6.80zM384.90 457.97h47.60v7.97h-47.60zM435.90 457.97h37.40v7.97h-37.40zM476.70 457.97h3.40v7.97h-3.40zM497.10 457.97h6.80v7.97h-6.80zM316.90 465.94h3.40v7.97h-3.40zM357.70 465.94h3.40v7.97h-3.40zM364.50 465.94h3.40v7.97h-3.40zM374.70 465.94h6.80v7.97h-6.80zM384.90 465.94h23.80v7.97h-23.80zM412.10 465.94h3.40v7.97h-3.40zM418.90 465.94h13.60v7.97h-13.60zM435.90 465.94h27.20v7.97h-27.20zM466.50 465.94h3.40v7.97h-3.40zM480.10 465.94h3.40v7.97h-3.40zM497.10 465.94h3.40v7.97h-3.40zM507.30 465.94h3.40v7.97h-3.40zM316.90 473.91h3.40v7.97h-3.40zM388.30 473.91h30.60v7.97h-30.60zM422.30 473.91h3.40v7.97h-3.40zM429.10 473.91h3.40v7.97h-3.40zM439.30 473.91h17.00v7.97h-17.00zM459.70 473.91h10.20v7.97h-10.20zM476.70 473.91h3.40v7.97h-3.40zM497.10 473.91h10.20v7.97h-10.20zM510.70 473.91h3.40v7.97h-3.40zM316.90 481.88h3.40v7.97h-3.40zM374.70 481.88h3.40v7.97h-3.40zM384.90 481.88h6.80v7.97h-6.80zM395.10 481.88h23.80v7.97h-23.80zM429.10 481.88h30.60v7.97h-30.60zM466.50 481.88h6.80v7.97h-6.80zM480.10 481.88h3.40v7.97h-3.40zM493.70 481.88h3.40v7.97h-3.40zM500.50 481.88h3.40v7.97h-3.40zM316.90 489.85h3.40v7.97h-3.40zM361.10 489.85h3.40v7.97h-3.40zM371.30 489.85h20.40v7.97h-20.40zM395.10 489.85h27.20v7.97h-27.20zM429.10 489.85h3.40v7.97h-3.40zM435.90 489.85h23.80v7.97h-23.80zM463.10 489.85h6.80v7.97h-6.80zM490.30 489.85h3.40v7.97h-3.40zM316.90 497.82h3.40v7.97h-3.40zM367.90 497.82h95.20v7.97h-95.20zM466.50 497.82h3.40v7.97h-3.40zM473.30 497.82h6.80v7.97h-6.80z"/>
<path shape-rendering="crispEdges" fill="#f4b295" d="M378.10 370.30h17.00v7.97h-17.00z"/>
<path shape-rendering="crispEdges" fill="#f4a682" d="M395.10 370.30h17.00v7.97h-17.00z"/>
<path shape-rendering="crispEdges" fill="#f39055" d="M412.10 370.30h10.20v7.97h-10.20z"/>
<path shape-rendering="crispEdges" fill="#f39a66" d="M422.30 370.30h10.20v7.97h-10.20z"/>
<path shape-rendering="crispEdges" fill="#f28a48" d="M432.50 370.30h3.40v7.97h-3.40z"/>
<path shape-rendering="crispEdges" fill="#ec7414" d="M435.90 370.30h6.80v7.97h-6.80z"/>
<path shape-rendering="crispEdges" fill="#f3a47c" d="M442.70 370.30h3.40v7.97h-3.40z"/>
<path shape-rendering="crispEdges" fill="#f3b296" d="M446.10 370.30h6.80v7.97h-6.80z"/>
<path shape-rendering="crispEdges" fill="#f3b294" d="M405.30 378.27h34.00v7.97h-34.00z"/>
<path shape-rendering="crispEdges" fill="#f2aa8a" d="M439.30 378.27h3.40v7.97h-3.40z"/>
<path shape-rendering="crispEdges" fill="#f3b59c" d="M439.30 386.24h3.40v7.97h-3.40zM439.30 394.21h3.40v7.97h-3.40zM439.30 402.18h3.40v7.97h-3.40z"/>
<path shape-rendering="crispEdges" fill="#acc9ee" d="M483.50 386.24h3.40v7.97h-3.40zM327.10 394.21h3.40v7.97h-3.40zM384.90 402.18h3.40v7.97h-3.40zM500.50 402.18h3.40v7.97h-3.40zM374.70 410.15h6.80v7.97h-6.80zM483.50 410.15h3.40v7.97h-3.40zM316.90 418.12h3.40v7.97h-3.40zM323.70 418.12h3.40v7.97h-3.40zM483.50 418.12h3.40v7.97h-3.40zM507.30 418.12h3.40v7.97h-3.40zM361.10 426.09h3.40v7.97h-3.40zM367.90 426.09h6.80v7.97h-6.80zM381.50 426.09h3.40v7.97h-3.40zM432.50 426.09h3.40v7.97h-3.40zM316.90 434.06h3.40v7.97h-3.40zM374.70 434.06h3.40v7.97h-3.40zM384.90 434.06h6.80v7.97h-6.80zM446.10 434.06h3.40v7.97h-3.40zM483.50 434.06h6.80v7.97h-6.80zM493.70 434.06h3.40v7.97h-3.40zM514.10 434.06h3.40v7.97h-3.40zM361.10 442.03h3.40v7.97h-3.40zM367.90 442.03h6.80v7.97h-6.80zM384.90 442.03h3.40v7.97h-3.40zM429.10 442.03h6.80v7.97h-6.80zM459.70 442.03h3.40v7.97h-3.40zM486.90 442.03h6.80v7.97h-6.80zM507.30 442.03h3.40v7.97h-3.40zM357.70 450.00h6.80v7.97h-6.80zM384.90 450.00h3.40v7.97h-3.40zM391.70 450.00h3.40v7.97h-3.40zM429.10 450.00h3.40v7.97h-3.40zM456.30 450.00h6.80v7.97h-6.80zM476.70 450.00h3.40v7.97h-3.40zM483.50 450.00h10.20v7.97h-10.20zM337.30 457.97h3.40v7.97h-3.40zM357.70 457.97h3.40v7.97h-3.40zM473.30 457.97h3.40v7.97h-3.40zM480.10 457.97h10.20v7.97h-10.20zM493.70 457.97h3.40v7.97h-3.40zM503.90 457.97h10.20v7.97h-10.20zM367.90 465.94h6.80v7.97h-6.80zM381.50 465.94h3.40v7.97h-3.40zM408.70 465.94h3.40v7.97h-3.40zM415.50 465.94h3.40v7.97h-3.40zM463.10 465.94h3.40v7.97h-3.40zM469.90 465.94h10.20v7.97h-10.20zM483.50 465.94h6.80v7.97h-6.80zM500.50 465.94h6.80v7.97h-6.80zM510.70 465.94h3.40v7.97h-3.40zM371.30 473.91h17.00v7.97h-17.00zM418.90 473.91h3.40v7.97h-3.40zM425.70 473.91h3.40v7.97h-3.40zM435.90 473.91h3.40v7.97h-3.40zM456.30 473.91h3.40v7.97h-3.40zM469.90 473.91h3.40v7.97h-3.40zM480.10 473.91h17.00v7.97h-17.00zM507.30 473.91h3.40v7.97h-3.40zM371.30 481.88h3.40v7.97h-3.40zM378.10 481.88h6.80v7.97h-6.80zM391.70 481.88h3.40v7.97h-3.40zM418.90 481.88h10.20v7.97h-10.20zM459.70 481.88h6.80v7.97h-6.80zM473.30 481.88h6.80v7.97h-6.80zM483.50 481.88h3.40v7.97h-3.40zM497.10 481.88h3.40v7.97h-3.40zM503.90 481.88h3.40v7.97h-3.40zM354.30 489.85h3.40v7.97h-3.40zM367.90 489.85h3.40v7.97h-3.40zM391.70 489.85h3.40v7.97h-3.40zM422.30 489.85h6.80v7.97h-6.80zM432.50 489.85h3.40v7.97h-3.40zM459.70 489.85h3.40v7.97h-3.40zM469.90 489.85h10.20v7.97h-10.20zM483.50 489.85h3.40v7.97h-3.40zM493.70 489.85h6.80v7.97h-6.80zM337.30 497.82h3.40v7.97h-3.40zM361.10 497.82h6.80v7.97h-6.80zM463.10 497.82h3.40v7.97h-3.40zM469.90 497.82h3.40v7.97h-3.40zM480.10 497.82h3.40v7.97h-3.40z"/>
<rect x="38.50" y="6.30" width="236.00" height="151.30" fill="none" stroke="#5a5a5a" stroke-width="1"/>
<line x1="35.50" y1="151.60" x2="38.50" y2="151.60" stroke="#3a3a3a" stroke-width="1"/>
<text x="33.50" y="154.10" font-size="7.3" font-family="'DejaVu Sans', sans-serif" text-anchor="end" font-weight="normal" fill="#1e1e1e" stroke="#1e1e1e" stroke-width="0.22">0.0</text>
<line x1="35.50" y1="123.94" x2="38.50" y2="123.94" stroke="#3a3a3a" stroke-width="1"/>
<text x="33.50" y="126.44" font-size="7.3" font-family="'DejaVu Sans', sans-serif" text-anchor="end" font-weight="normal" fill="#1e1e1e" stroke="#1e1e1e" stroke-width="0.22">0.2</text>
<line x1="35.50" y1="96.28" x2="38.50" y2="96.28" stroke="#3a3a3a" stroke-width="1"/>
<text x="33.50" y="98.78" font-size="7.3" font-family="'DejaVu Sans', sans-serif" text-anchor="end" font-weight="normal" fill="#1e1e1e" stroke="#1e1e1e" stroke-width="0.22">0.4</text>
<line x1="35.50" y1="68.62" x2="38.50" y2="68.62" stroke="#3a3a3a" stroke-width="1"/>
<text x="33.50" y="71.12" font-size="7.3" font-family="'DejaVu Sans', sans-serif" text-anchor="end" font-weight="normal" fill="#1e1e1e" stroke="#1e1e1e" stroke-width="0.22">0.6</text>
<line x1="35.50" y1="40.96" x2="38.50" y2="40.96" stroke="#3a3a3a" stroke-width="1"/>
<text x="33.50" y="43.46" font-size="7.3" font-family="'DejaVu Sans', sans-serif" text-anchor="end" font-weight="normal" fill="#1e1e1e" stroke="#1e1e1e" stroke-width="0.22">0.8</text>
<line x1="35.50" y1="13.30" x2="38.50" y2="13.30" stroke="#3a3a3a" stroke-width="1"/>
<text x="33.50" y="15.80" font-size="7.3" font-family="'DejaVu Sans', sans-serif" text-anchor="end" font-weight="normal" fill="#1e1e1e" stroke="#1e1e1e" stroke-width="0.22">1.0</text>
<line x1="49.60" y1="157.60" x2="49.60" y2="160.60" stroke="#3a3a3a" stroke-width="1"/>
<text x="49.60" y="168.30" font-size="7.3" font-family="'DejaVu Sans', sans-serif" text-anchor="middle" font-weight="normal" fill="#1e1e1e" stroke="#1e1e1e" stroke-width="0.22">0</text>
<line x1="96.60" y1="157.60" x2="96.60" y2="160.60" stroke="#3a3a3a" stroke-width="1"/>
<text x="96.60" y="168.30" font-size="7.3" font-family="'DejaVu Sans', sans-serif" text-anchor="middle" font-weight="normal" fill="#1e1e1e" stroke="#1e1e1e" stroke-width="0.22">2</text>
<line x1="143.60" y1="157.60" x2="143.60" y2="160.60" stroke="#3a3a3a" stroke-width="1"/>
<text x="143.60" y="168.30" font-size="7.3" font-family="'DejaVu Sans', sans-serif" text-anchor="middle" font-weight="normal" fill="#1e1e1e" stroke="#1e1e1e" stroke-width="0.22">4</text>
<line x1="190.60" y1="157.60" x2="190.60" y2="160.60" stroke="#3a3a3a" stroke-width="1"/>
<text x="190.60" y="168.30" font-size="7.3" font-family="'DejaVu Sans', sans-serif" text-anchor="middle" font-weight="normal" fill="#1e1e1e" stroke="#1e1e1e" stroke-width="0.22">6</text>
<line x1="237.60" y1="157.60" x2="237.60" y2="160.60" stroke="#3a3a3a" stroke-width="1"/>
<text x="237.60" y="168.30" font-size="7.3" font-family="'DejaVu Sans', sans-serif" text-anchor="middle" font-weight="normal" fill="#1e1e1e" stroke="#1e1e1e" stroke-width="0.22">8</text>
<rect x="313.30" y="6.20" width="229.20" height="151.30" fill="none" stroke="#5a5a5a" stroke-width="1"/>
<line x1="310.30" y1="151.60" x2="313.30" y2="151.60" stroke="#3a3a3a" stroke-width="1"/>
<text x="308.30" y="154.10" font-size="7.3" font-family="'DejaVu Sans', sans-serif" text-anchor="end" font-weight="normal" fill="#1e1e1e" stroke="#1e1e1e" stroke-width="0.22">0.0</text>
<line x1="310.30" y1="123.94" x2="313.30" y2="123.94" stroke="#3a3a3a" stroke-width="1"/>
<text x="308.30" y="126.44" font-size="7.3" font-family="'DejaVu Sans', sans-serif" text-anchor="end" font-weight="normal" fill="#1e1e1e" stroke="#1e1e1e" stroke-width="0.22">0.2</text>
<line x1="310.30" y1="96.28" x2="313.30" y2="96.28" stroke="#3a3a3a" stroke-width="1"/>
<text x="308.30" y="98.78" font-size="7.3" font-family="'DejaVu Sans', sans-serif" text-anchor="end" font-weight="normal" fill="#1e1e1e" stroke="#1e1e1e" stroke-width="0.22">0.4</text>
<line x1="310.30" y1="68.62" x2="313.30" y2="68.62" stroke="#3a3a3a" stroke-width="1"/>
<text x="308.30" y="71.12" font-size="7.3" font-family="'DejaVu Sans', sans-serif" text-anchor="end" font-weight="normal" fill="#1e1e1e" stroke="#1e1e1e" stroke-width="0.22">0.6</text>
<line x1="310.30" y1="40.96" x2="313.30" y2="40.96" stroke="#3a3a3a" stroke-width="1"/>
<text x="308.30" y="43.46" font-size="7.3" font-family="'DejaVu Sans', sans-serif" text-anchor="end" font-weight="normal" fill="#1e1e1e" stroke="#1e1e1e" stroke-width="0.22">0.8</text>
<line x1="310.30" y1="13.30" x2="313.30" y2="13.30" stroke="#3a3a3a" stroke-width="1"/>
<text x="308.30" y="15.80" font-size="7.3" font-family="'DejaVu Sans', sans-serif" text-anchor="end" font-weight="normal" fill="#1e1e1e" stroke="#1e1e1e" stroke-width="0.22">1.0</text>
<line x1="323.50" y1="157.50" x2="323.50" y2="160.50" stroke="#3a3a3a" stroke-width="1"/>
<text x="323.50" y="168.30" font-size="7.3" font-family="'DejaVu Sans', sans-serif" text-anchor="middle" font-weight="normal" fill="#1e1e1e" stroke="#1e1e1e" stroke-width="0.22">0.000</text>
<line x1="349.35" y1="157.50" x2="349.35" y2="160.50" stroke="#3a3a3a" stroke-width="1"/>
<text x="349.35" y="168.30" font-size="7.3" font-family="'DejaVu Sans', sans-serif" text-anchor="middle" font-weight="normal" fill="#1e1e1e" stroke="#1e1e1e" stroke-width="0.22">0.001</text>
<line x1="375.20" y1="157.50" x2="375.20" y2="160.50" stroke="#3a3a3a" stroke-width="1"/>
<text x="375.20" y="168.30" font-size="7.3" font-family="'DejaVu Sans', sans-serif" text-anchor="middle" font-weight="normal" fill="#1e1e1e" stroke="#1e1e1e" stroke-width="0.22">0.002</text>
<line x1="401.05" y1="157.50" x2="401.05" y2="160.50" stroke="#3a3a3a" stroke-width="1"/>
<text x="401.05" y="168.30" font-size="7.3" font-family="'DejaVu Sans', sans-serif" text-anchor="middle" font-weight="normal" fill="#1e1e1e" stroke="#1e1e1e" stroke-width="0.22">0.003</text>
<line x1="426.90" y1="157.50" x2="426.90" y2="160.50" stroke="#3a3a3a" stroke-width="1"/>
<text x="426.90" y="168.30" font-size="7.3" font-family="'DejaVu Sans', sans-serif" text-anchor="middle" font-weight="normal" fill="#1e1e1e" stroke="#1e1e1e" stroke-width="0.22">0.004</text>
<line x1="452.75" y1="157.50" x2="452.75" y2="160.50" stroke="#3a3a3a" stroke-width="1"/>
<text x="452.75" y="168.30" font-size="7.3" font-family="'DejaVu Sans', sans-serif" text-anchor="middle" font-weight="normal" fill="#1e1e1e" stroke="#1e1e1e" stroke-width="0.22">0.005</text>
<line x1="478.60" y1="157.50" x2="478.60" y2="160.50" stroke="#3a3a3a" stroke-width="1"/>
<text x="478.60" y="168.30" font-size="7.3" font-family="'DejaVu Sans', sans-serif" text-anchor="middle" font-weight="normal" fill="#1e1e1e" stroke="#1e1e1e" stroke-width="0.22">0.006</text>
<line x1="504.45" y1="157.50" x2="504.45" y2="160.50" stroke="#3a3a3a" stroke-width="1"/>
<text x="504.45" y="168.30" font-size="7.3" font-family="'DejaVu Sans', sans-serif" text-anchor="middle" font-weight="normal" fill="#1e1e1e" stroke="#1e1e1e" stroke-width="0.22">0.007</text>
<line x1="530.30" y1="157.50" x2="530.30" y2="160.50" stroke="#3a3a3a" stroke-width="1"/>
<text x="530.30" y="168.30" font-size="7.3" font-family="'DejaVu Sans', sans-serif" text-anchor="middle" font-weight="normal" fill="#1e1e1e" stroke="#1e1e1e" stroke-width="0.22">0.008</text>
<rect x="38.20" y="186.00" width="232.80" height="151.30" fill="none" stroke="#5a5a5a" stroke-width="1"/>
<line x1="35.20" y1="331.20" x2="38.20" y2="331.20" stroke="#3a3a3a" stroke-width="1"/>
<text x="33.20" y="333.70" font-size="7.3" font-family="'DejaVu Sans', sans-serif" text-anchor="end" font-weight="normal" fill="#1e1e1e" stroke="#1e1e1e" stroke-width="0.22">0.0</text>
<line x1="35.20" y1="303.60" x2="38.20" y2="303.60" stroke="#3a3a3a" stroke-width="1"/>
<text x="33.20" y="306.10" font-size="7.3" font-family="'DejaVu Sans', sans-serif" text-anchor="end" font-weight="normal" fill="#1e1e1e" stroke="#1e1e1e" stroke-width="0.22">0.2</text>
<line x1="35.20" y1="276.00" x2="38.20" y2="276.00" stroke="#3a3a3a" stroke-width="1"/>
<text x="33.20" y="278.50" font-size="7.3" font-family="'DejaVu Sans', sans-serif" text-anchor="end" font-weight="normal" fill="#1e1e1e" stroke="#1e1e1e" stroke-width="0.22">0.4</text>
<line x1="35.20" y1="248.40" x2="38.20" y2="248.40" stroke="#3a3a3a" stroke-width="1"/>
<text x="33.20" y="250.90" font-size="7.3" font-family="'DejaVu Sans', sans-serif" text-anchor="end" font-weight="normal" fill="#1e1e1e" stroke="#1e1e1e" stroke-width="0.22">0.6</text>
<line x1="35.20" y1="220.80" x2="38.20" y2="220.80" stroke="#3a3a3a" stroke-width="1"/>
<text x="33.20" y="223.30" font-size="7.3" font-family="'DejaVu Sans', sans-serif" text-anchor="end" font-weight="normal" fill="#1e1e1e" stroke="#1e1e1e" stroke-width="0.22">0.8</text>
<line x1="35.20" y1="193.20" x2="38.20" y2="193.20" stroke="#3a3a3a" stroke-width="1"/>
<text x="33.20" y="195.70" font-size="7.3" font-family="'DejaVu Sans', sans-serif" text-anchor="end" font-weight="normal" fill="#1e1e1e" stroke="#1e1e1e" stroke-width="0.22">1.0</text>
<line x1="49.30" y1="337.30" x2="49.30" y2="340.30" stroke="#3a3a3a" stroke-width="1"/>
<text x="49.30" y="347.90" font-size="7.3" font-family="'DejaVu Sans', sans-serif" text-anchor="middle" font-weight="normal" fill="#1e1e1e" stroke="#1e1e1e" stroke-width="0.22">0</text>
<line x1="79.80" y1="337.30" x2="79.80" y2="340.30" stroke="#3a3a3a" stroke-width="1"/>
<text x="79.80" y="347.90" font-size="7.3" font-family="'DejaVu Sans', sans-serif" text-anchor="middle" font-weight="normal" fill="#1e1e1e" stroke="#1e1e1e" stroke-width="0.22">100</text>
<line x1="110.30" y1="337.30" x2="110.30" y2="340.30" stroke="#3a3a3a" stroke-width="1"/>
<text x="110.30" y="347.90" font-size="7.3" font-family="'DejaVu Sans', sans-serif" text-anchor="middle" font-weight="normal" fill="#1e1e1e" stroke="#1e1e1e" stroke-width="0.22">200</text>
<line x1="140.80" y1="337.30" x2="140.80" y2="340.30" stroke="#3a3a3a" stroke-width="1"/>
<text x="140.80" y="347.90" font-size="7.3" font-family="'DejaVu Sans', sans-serif" text-anchor="middle" font-weight="normal" fill="#1e1e1e" stroke="#1e1e1e" stroke-width="0.22">300</text>
<line x1="171.30" y1="337.30" x2="171.30" y2="340.30" stroke="#3a3a3a" stroke-width="1"/>
<text x="171.30" y="347.90" font-size="7.3" font-family="'DejaVu Sans', sans-serif" text-anchor="middle" font-weight="normal" fill="#1e1e1e" stroke="#1e1e1e" stroke-width="0.22">400</text>
<line x1="201.80" y1="337.30" x2="201.80" y2="340.30" stroke="#3a3a3a" stroke-width="1"/>
<text x="201.80" y="347.90" font-size="7.3" font-family="'DejaVu Sans', sans-serif" text-anchor="middle" font-weight="normal" fill="#1e1e1e" stroke="#1e1e1e" stroke-width="0.22">500</text>
<line x1="232.30" y1="337.30" x2="232.30" y2="340.30" stroke="#3a3a3a" stroke-width="1"/>
<text x="232.30" y="347.90" font-size="7.3" font-family="'DejaVu Sans', sans-serif" text-anchor="middle" font-weight="normal" fill="#1e1e1e" stroke="#1e1e1e" stroke-width="0.22">600</text>
<line x1="262.80" y1="337.30" x2="262.80" y2="340.30" stroke="#3a3a3a" stroke-width="1"/>
<text x="262.80" y="347.90" font-size="7.3" font-family="'DejaVu Sans', sans-serif" text-anchor="middle" font-weight="normal" fill="#1e1e1e" stroke="#1e1e1e" stroke-width="0.22">700</text>
<rect x="310.00" y="186.00" width="232.50" height="151.00" fill="none" stroke="#5a5a5a" stroke-width="1"/>
<line x1="307.00" y1="331.20" x2="310.00" y2="331.20" stroke="#3a3a3a" stroke-width="1"/>
<text x="305.00" y="333.70" font-size="7.3" font-family="'DejaVu Sans', sans-serif" text-anchor="end" font-weight="normal" fill="#1e1e1e" stroke="#1e1e1e" stroke-width="0.22">0.0</text>
<line x1="307.00" y1="303.60" x2="310.00" y2="303.60" stroke="#3a3a3a" stroke-width="1"/>
<text x="305.00" y="306.10" font-size="7.3" font-family="'DejaVu Sans', sans-serif" text-anchor="end" font-weight="normal" fill="#1e1e1e" stroke="#1e1e1e" stroke-width="0.22">0.2</text>
<line x1="307.00" y1="276.00" x2="310.00" y2="276.00" stroke="#3a3a3a" stroke-width="1"/>
<text x="305.00" y="278.50" font-size="7.3" font-family="'DejaVu Sans', sans-serif" text-anchor="end" font-weight="normal" fill="#1e1e1e" stroke="#1e1e1e" stroke-width="0.22">0.4</text>
<line x1="307.00" y1="248.40" x2="310.00" y2="248.40" stroke="#3a3a3a" stroke-width="1"/>
<text x="305.00" y="250.90" font-size="7.3" font-family="'DejaVu Sans', sans-serif" text-anchor="end" font-weight="normal" fill="#1e1e1e" stroke="#1e1e1e" stroke-width="0.22">0.6</text>
<line x1="307.00" y1="220.80" x2="310.00" y2="220.80" stroke="#3a3a3a" stroke-width="1"/>
<text x="305.00" y="223.30" font-size="7.3" font-family="'DejaVu Sans', sans-serif" text-anchor="end" font-weight="normal" fill="#1e1e1e" stroke="#1e1e1e" stroke-width="0.22">0.8</text>
<line x1="307.00" y1="193.20" x2="310.00" y2="193.20" stroke="#3a3a3a" stroke-width="1"/>
<text x="305.00" y="195.70" font-size="7.3" font-family="'DejaVu Sans', sans-serif" text-anchor="end" font-weight="normal" fill="#1e1e1e" stroke="#1e1e1e" stroke-width="0.22">1.0</text>
<line x1="320.50" y1="337.00" x2="320.50" y2="340.00" stroke="#3a3a3a" stroke-width="1"/>
<text x="320.50" y="347.90" font-size="7.3" font-family="'DejaVu Sans', sans-serif" text-anchor="middle" font-weight="normal" fill="#1e1e1e" stroke="#1e1e1e" stroke-width="0.22">0</text>
<line x1="363.70" y1="337.00" x2="363.70" y2="340.00" stroke="#3a3a3a" stroke-width="1"/>
<text x="363.70" y="347.90" font-size="7.3" font-family="'DejaVu Sans', sans-serif" text-anchor="middle" font-weight="normal" fill="#1e1e1e" stroke="#1e1e1e" stroke-width="0.22">2</text>
<line x1="406.90" y1="337.00" x2="406.90" y2="340.00" stroke="#3a3a3a" stroke-width="1"/>
<text x="406.90" y="347.90" font-size="7.3" font-family="'DejaVu Sans', sans-serif" text-anchor="middle" font-weight="normal" fill="#1e1e1e" stroke="#1e1e1e" stroke-width="0.22">4</text>
<line x1="450.10" y1="337.00" x2="450.10" y2="340.00" stroke="#3a3a3a" stroke-width="1"/>
<text x="450.10" y="347.90" font-size="7.3" font-family="'DejaVu Sans', sans-serif" text-anchor="middle" font-weight="normal" fill="#1e1e1e" stroke="#1e1e1e" stroke-width="0.22">6</text>
<line x1="493.30" y1="337.00" x2="493.30" y2="340.00" stroke="#3a3a3a" stroke-width="1"/>
<text x="493.30" y="347.90" font-size="7.3" font-family="'DejaVu Sans', sans-serif" text-anchor="middle" font-weight="normal" fill="#1e1e1e" stroke="#1e1e1e" stroke-width="0.22">8</text>
<line x1="536.50" y1="337.00" x2="536.50" y2="340.00" stroke="#3a3a3a" stroke-width="1"/>
<text x="536.50" y="347.90" font-size="7.3" font-family="'DejaVu Sans', sans-serif" text-anchor="middle" font-weight="normal" fill="#1e1e1e" stroke="#1e1e1e" stroke-width="0.22">10</text>
<rect x="38.50" y="363.80" width="232.90" height="148.50" fill="none" stroke="#5a5a5a" stroke-width="1"/>
<line x1="35.50" y1="506.00" x2="38.50" y2="506.00" stroke="#3a3a3a" stroke-width="1"/>
<text x="33.50" y="508.50" font-size="7.3" font-family="'DejaVu Sans', sans-serif" text-anchor="end" font-weight="normal" fill="#1e1e1e" stroke="#1e1e1e" stroke-width="0.22">0.0</text>
<line x1="35.50" y1="478.92" x2="38.50" y2="478.92" stroke="#3a3a3a" stroke-width="1"/>
<text x="33.50" y="481.42" font-size="7.3" font-family="'DejaVu Sans', sans-serif" text-anchor="end" font-weight="normal" fill="#1e1e1e" stroke="#1e1e1e" stroke-width="0.22">0.2</text>
<line x1="35.50" y1="451.84" x2="38.50" y2="451.84" stroke="#3a3a3a" stroke-width="1"/>
<text x="33.50" y="454.34" font-size="7.3" font-family="'DejaVu Sans', sans-serif" text-anchor="end" font-weight="normal" fill="#1e1e1e" stroke="#1e1e1e" stroke-width="0.22">0.4</text>
<line x1="35.50" y1="424.76" x2="38.50" y2="424.76" stroke="#3a3a3a" stroke-width="1"/>
<text x="33.50" y="427.26" font-size="7.3" font-family="'DejaVu Sans', sans-serif" text-anchor="end" font-weight="normal" fill="#1e1e1e" stroke="#1e1e1e" stroke-width="0.22">0.6</text>
<line x1="35.50" y1="397.68" x2="38.50" y2="397.68" stroke="#3a3a3a" stroke-width="1"/>
<text x="33.50" y="400.18" font-size="7.3" font-family="'DejaVu Sans', sans-serif" text-anchor="end" font-weight="normal" fill="#1e1e1e" stroke="#1e1e1e" stroke-width="0.22">0.8</text>
<line x1="35.50" y1="370.60" x2="38.50" y2="370.60" stroke="#3a3a3a" stroke-width="1"/>
<text x="33.50" y="373.10" font-size="7.3" font-family="'DejaVu Sans', sans-serif" text-anchor="end" font-weight="normal" fill="#1e1e1e" stroke="#1e1e1e" stroke-width="0.22">1.0</text>
<rect x="306.60" y="363.60" width="235.90" height="149.00" fill="none" stroke="#5a5a5a" stroke-width="1"/>
<line x1="303.60" y1="506.50" x2="306.60" y2="506.50" stroke="#3a3a3a" stroke-width="1"/>
<text x="301.60" y="509.00" font-size="7.3" font-family="'DejaVu Sans', sans-serif" text-anchor="end" font-weight="normal" fill="#1e1e1e" stroke="#1e1e1e" stroke-width="0.22">0.0</text>
<line x1="303.60" y1="479.32" x2="306.60" y2="479.32" stroke="#3a3a3a" stroke-width="1"/>
<text x="301.60" y="481.82" font-size="7.3" font-family="'DejaVu Sans', sans-serif" text-anchor="end" font-weight="normal" fill="#1e1e1e" stroke="#1e1e1e" stroke-width="0.22">0.2</text>
<line x1="303.60" y1="452.14" x2="306.60" y2="452.14" stroke="#3a3a3a" stroke-width="1"/>
<text x="301.60" y="454.64" font-size="7.3" font-family="'DejaVu Sans', sans-serif" text-anchor="end" font-weight="normal" fill="#1e1e1e" stroke="#1e1e1e" stroke-width="0.22">0.4</text>
<line x1="303.60" y1="424.96" x2="306.60" y2="424.96" stroke="#3a3a3a" stroke-width="1"/>
<text x="301.60" y="427.46" font-size="7.3" font-family="'DejaVu Sans', sans-serif" text-anchor="end" font-weight="normal" fill="#1e1e1e" stroke="#1e1e1e" stroke-width="0.22">0.6</text>
<line x1="303.60" y1="397.78" x2="306.60" y2="397.78" stroke="#3a3a3a" stroke-width="1"/>
<text x="301.60" y="400.28" font-size="7.3" font-family="'DejaVu Sans', sans-serif" text-anchor="end" font-weight="normal" fill="#1e1e1e" stroke="#1e1e1e" stroke-width="0.22">0.8</text>
<line x1="303.60" y1="370.60" x2="306.60" y2="370.60" stroke="#3a3a3a" stroke-width="1"/>
<text x="301.60" y="373.10" font-size="7.3" font-family="'DejaVu Sans', sans-serif" text-anchor="end" font-weight="normal" fill="#1e1e1e" stroke="#1e1e1e" stroke-width="0.22">1.0</text>
<line x1="317.40" y1="512.60" x2="317.40" y2="515.60" stroke="#3a3a3a" stroke-width="1"/>
<text x="317.40" y="523.30" font-size="7.3" font-family="'DejaVu Sans', sans-serif" text-anchor="middle" font-weight="normal" fill="#1e1e1e" stroke="#1e1e1e" stroke-width="0.22">−10000</text>
<line x1="348.30" y1="512.60" x2="348.30" y2="515.60" stroke="#3a3a3a" stroke-width="1"/>
<text x="348.30" y="523.30" font-size="7.3" font-family="'DejaVu Sans', sans-serif" text-anchor="middle" font-weight="normal" fill="#1e1e1e" stroke="#1e1e1e" stroke-width="0.22">−7500</text>
<line x1="379.20" y1="512.60" x2="379.20" y2="515.60" stroke="#3a3a3a" stroke-width="1"/>
<text x="379.20" y="523.30" font-size="7.3" font-family="'DejaVu Sans', sans-serif" text-anchor="middle" font-weight="normal" fill="#1e1e1e" stroke="#1e1e1e" stroke-width="0.22">−5000</text>
<line x1="410.10" y1="512.60" x2="410.10" y2="515.60" stroke="#3a3a3a" stroke-width="1"/>
<text x="410.10" y="523.30" font-size="7.3" font-family="'DejaVu Sans', sans-serif" text-anchor="middle" font-weight="normal" fill="#1e1e1e" stroke="#1e1e1e" stroke-width="0.22">−2500</text>
<line x1="441.00" y1="512.60" x2="441.00" y2="515.60" stroke="#3a3a3a" stroke-width="1"/>
<text x="441.00" y="523.30" font-size="7.3" font-family="'DejaVu Sans', sans-serif" text-anchor="middle" font-weight="normal" fill="#1e1e1e" stroke="#1e1e1e" stroke-width="0.22">0</text>
<line x1="471.90" y1="512.60" x2="471.90" y2="515.60" stroke="#3a3a3a" stroke-width="1"/>
<text x="471.90" y="523.30" font-size="7.3" font-family="'DejaVu Sans', sans-serif" text-anchor="middle" font-weight="normal" fill="#1e1e1e" stroke="#1e1e1e" stroke-width="0.22">2500</text>
<line x1="502.80" y1="512.60" x2="502.80" y2="515.60" stroke="#3a3a3a" stroke-width="1"/>
<text x="502.80" y="523.30" font-size="7.3" font-family="'DejaVu Sans', sans-serif" text-anchor="middle" font-weight="normal" fill="#1e1e1e" stroke="#1e1e1e" stroke-width="0.22">5000</text>
<line x1="533.70" y1="512.60" x2="533.70" y2="515.60" stroke="#3a3a3a" stroke-width="1"/>
<text x="533.70" y="523.30" font-size="7.3" font-family="'DejaVu Sans', sans-serif" text-anchor="middle" font-weight="normal" fill="#1e1e1e" stroke="#1e1e1e" stroke-width="0.22">7500</text>
<rect x="241.30" y="9.30" width="29.30" height="33.90" rx="1.5" fill="#ffffff" fill-opacity="0.85" stroke="#dddddd" stroke-width="0.8"/>
<text x="255.95" y="18.30" font-size="7.4" font-family="'DejaVu Sans', sans-serif" text-anchor="middle" font-weight="normal" fill="#1e1e1e">Target</text>
<rect x="244.30" y="23.90" width="14.50" height="4.80" fill="#1f77b4"/>
<rect x="244.30" y="34.10" width="14.50" height="4.80" fill="#ff7f0e"/>
<text x="267.60" y="29.30" font-size="7.4" font-family="'DejaVu Sans', sans-serif" text-anchor="end" font-weight="normal" fill="#1e1e1e">0</text>
<text x="267.60" y="39.50" font-size="7.4" font-family="'DejaVu Sans', sans-serif" text-anchor="end" font-weight="normal" fill="#1e1e1e">1</text>
<rect x="510.90" y="10.00" width="28.10" height="33.40" rx="1.5" fill="#ffffff" fill-opacity="0.85" stroke="#dddddd" stroke-width="0.8"/>
<text x="524.95" y="19.00" font-size="7.4" font-family="'DejaVu Sans', sans-serif" text-anchor="middle" font-weight="normal" fill="#1e1e1e">Target</text>
<rect x="513.90" y="24.60" width="14.50" height="4.80" fill="#1f77b4"/>
<rect x="513.90" y="34.80" width="14.50" height="4.80" fill="#ff7f0e"/>
<text x="536.00" y="30.00" font-size="7.4" font-family="'DejaVu Sans', sans-serif" text-anchor="end" font-weight="normal" fill="#1e1e1e">0</text>
<text x="536.00" y="40.20" font-size="7.4" font-family="'DejaVu Sans', sans-serif" text-anchor="end" font-weight="normal" fill="#1e1e1e">1</text>
<rect x="237.90" y="189.10" width="29.90" height="33.20" rx="1.5" fill="#ffffff" fill-opacity="0.85" stroke="#dddddd" stroke-width="0.8"/>
<text x="252.85" y="198.10" font-size="7.4" font-family="'DejaVu Sans', sans-serif" text-anchor="middle" font-weight="normal" fill="#1e1e1e">Target</text>
<rect x="240.90" y="203.70" width="14.50" height="4.80" fill="#1f77b4"/>
<rect x="240.90" y="213.90" width="14.50" height="4.80" fill="#ff7f0e"/>
<text x="264.80" y="209.10" font-size="7.4" font-family="'DejaVu Sans', sans-serif" text-anchor="end" font-weight="normal" fill="#1e1e1e">0</text>
<text x="264.80" y="219.30" font-size="7.4" font-family="'DejaVu Sans', sans-serif" text-anchor="end" font-weight="normal" fill="#1e1e1e">1</text>
<rect x="509.60" y="189.40" width="29.10" height="33.10" rx="1.5" fill="#ffffff" fill-opacity="0.85" stroke="#dddddd" stroke-width="0.8"/>
<text x="524.15" y="198.40" font-size="7.4" font-family="'DejaVu Sans', sans-serif" text-anchor="middle" font-weight="normal" fill="#1e1e1e">Target</text>
<rect x="512.60" y="204.00" width="14.50" height="4.80" fill="#1f77b4"/>
<rect x="512.60" y="214.20" width="14.50" height="4.80" fill="#ff7f0e"/>
<text x="535.70" y="209.40" font-size="7.4" font-family="'DejaVu Sans', sans-serif" text-anchor="end" font-weight="normal" fill="#1e1e1e">0</text>
<text x="535.70" y="219.60" font-size="7.4" font-family="'DejaVu Sans', sans-serif" text-anchor="end" font-weight="normal" fill="#1e1e1e">1</text>
<rect x="509.40" y="367.60" width="28.90" height="32.40" rx="1.5" fill="#ffffff" fill-opacity="0.85" stroke="#dddddd" stroke-width="0.8"/>
<text x="523.85" y="376.60" font-size="7.4" font-family="'DejaVu Sans', sans-serif" text-anchor="middle" font-weight="normal" fill="#1e1e1e">Target</text>
<rect x="512.40" y="382.20" width="14.50" height="4.80" fill="#1f77b4"/>
<rect x="512.40" y="392.40" width="14.50" height="4.80" fill="#ff7f0e"/>
<text x="535.30" y="387.60" font-size="7.4" font-family="'DejaVu Sans', sans-serif" text-anchor="end" font-weight="normal" fill="#1e1e1e">0</text>
<text x="535.30" y="397.80" font-size="7.4" font-family="'DejaVu Sans', sans-serif" text-anchor="end" font-weight="normal" fill="#1e1e1e">1</text>
<rect x="238.60" y="367.20" width="28.90" height="32.60" rx="1.5" fill="#ffffff" fill-opacity="0.85" stroke="#dddddd" stroke-width="0.8"/>
<text x="253.05" y="376.20" font-size="7.4" font-family="'DejaVu Sans', sans-serif" text-anchor="middle" font-weight="normal" fill="#1e1e1e">Target</text>
<rect x="241.60" y="381.80" width="14.50" height="4.80" fill="#1f77b4"/>
<rect x="241.60" y="392.00" width="14.50" height="4.80" fill="#ff7f0e"/>
<text x="264.50" y="387.20" font-size="7.4" font-family="'DejaVu Sans', sans-serif" text-anchor="end" font-weight="normal" fill="#1e1e1e">0</text>
<text x="264.50" y="397.40" font-size="7.4" font-family="'DejaVu Sans', sans-serif" text-anchor="end" font-weight="normal" fill="#1e1e1e">1</text>
<text x="147.60" y="177.40" font-size="13.9" font-family="'Liberation Serif', serif" text-anchor="middle" font-weight="normal" fill="#111" stroke="#111" stroke-width="0.2">Magnitude_var (Mw)</text>
<text x="421.40" y="178.60" font-size="13.9" font-family="'Liberation Serif', serif" text-anchor="middle" font-weight="normal" fill="#111" stroke="#111" stroke-width="0.2">Tectonic_contacts</text>
<text x="163.90" y="359.20" font-size="13.9" font-family="'Liberation Serif', serif" text-anchor="middle" font-weight="normal" fill="#111" stroke="#111" stroke-width="0.2">Depth_var (km)</text>
<text x="422.80" y="359.30" font-size="13.9" font-family="'Liberation Serif', serif" text-anchor="middle" font-weight="normal" fill="#111" stroke="#111" stroke-width="0.2">Epicenter density</text>
<text x="173.30" y="541.90" font-size="13.9" font-family="'Liberation Serif', serif" text-anchor="middle" font-weight="normal" fill="#111" stroke="#111" stroke-width="0.2">Prox_thrust (km)</text>
<text x="428.10" y="536.40" font-size="13.9" font-family="'Liberation Serif', serif" text-anchor="middle" font-weight="normal" fill="#111" stroke="#111" stroke-width="0.2">Elevation (m)</text>
<text x="0.00" y="0.00" font-size="13.9" font-family="'Liberation Serif', serif" text-anchor="middle" font-weight="normal" fill="#111" stroke="#111" stroke-width="0.2" transform="translate(16.80,94.00) rotate(-90)">Probability</text>
<text x="0.00" y="0.00" font-size="13.9" font-family="'Liberation Serif', serif" text-anchor="middle" font-weight="normal" fill="#111" stroke="#111" stroke-width="0.2" transform="translate(293.60,87.70) rotate(-90)">Probability</text>
<text x="0.00" y="0.00" font-size="13.9" font-family="'Liberation Serif', serif" text-anchor="middle" font-weight="normal" fill="#111" stroke="#111" stroke-width="0.2" transform="translate(17.00,270.90) rotate(-90)">Probability</text>
<text x="0.00" y="0.00" font-size="13.9" font-family="'Liberation Serif', serif" text-anchor="middle" font-weight="normal" fill="#111" stroke="#111" stroke-width="0.2" transform="translate(290.60,271.10) rotate(-90)">Probability</text>
<text x="0.00" y="0.00" font-size="13.9" font-family="'Liberation Serif', serif" text-anchor="middle" font-weight="normal" fill="#111" stroke="#111" stroke-width="0.2" transform="translate(16.80,450.90) rotate(-90)">Probability</text>
<text x="0.00" y="0.00" font-size="13.9" font-family="'Liberation Serif', serif" text-anchor="middle" font-weight="normal" fill="#111" stroke="#111" stroke-width="0.2" transform="translate(288.30,439.10) rotate(-90)">Probability</text>
<text x="45.20" y="28.20" font-size="16.6" font-family="'Liberation Serif', serif" text-anchor="start" font-weight="bold" fill="#000">(a)</text>
<text x="315.40" y="22.00" font-size="16.6" font-family="'Liberation Serif', serif" text-anchor="start" font-weight="bold" fill="#000">(b)</text>
<text x="39.70" y="201.00" font-size="16.6" font-family="'Liberation Serif', serif" text-anchor="start" font-weight="bold" fill="#000">(c)</text>
<text x="312.90" y="204.60" font-size="16.6" font-family="'Liberation Serif', serif" text-anchor="start" font-weight="bold" fill="#000">(d)</text>
<text x="39.70" y="381.40" font-size="16.6" font-family="'Liberation Serif', serif" text-anchor="start" font-weight="bold" fill="#000">(e)</text>
<text x="309.90" y="381.00" font-size="16.6" font-family="'Liberation Serif', serif" text-anchor="start" font-weight="bold" fill="#000">(f)</text>
<line x1="49.40" y1="512.30" x2="49.40" y2="515.30" stroke="#3a3a3a" stroke-width="1"/>
<line x1="91.64" y1="512.30" x2="91.64" y2="515.30" stroke="#3a3a3a" stroke-width="1"/>
<line x1="133.88" y1="512.30" x2="133.88" y2="515.30" stroke="#3a3a3a" stroke-width="1"/>
<line x1="176.12" y1="512.30" x2="176.12" y2="515.30" stroke="#3a3a3a" stroke-width="1"/>
<line x1="218.36" y1="512.30" x2="218.36" y2="515.30" stroke="#3a3a3a" stroke-width="1"/>
<line x1="260.60" y1="512.30" x2="260.60" y2="515.30" stroke="#3a3a3a" stroke-width="1"/>
<text x="46.90" y="527.40" font-size="10.5" font-family="'Liberation Sans', sans-serif" text-anchor="start" font-weight="normal" fill="#222">0</text>
<text x="69.20" y="527.4" font-size="10.5" font-family="'Liberation Sans', sans-serif" text-anchor="start" fill="#222">0.2×10<tspan font-size="7.4" dy="-3.7">7</tspan></text>
<text x="114.70" y="527.4" font-size="10.5" font-family="'Liberation Sans', sans-serif" text-anchor="start" fill="#222">0.4×10<tspan font-size="7.4" dy="-3.7">7</tspan></text>
<text x="159.70" y="527.4" font-size="10.5" font-family="'Liberation Sans', sans-serif" text-anchor="start" fill="#222">0.6×10<tspan font-size="7.4" dy="-3.7">7</tspan></text>
<text x="205.60" y="527.4" font-size="10.5" font-family="'Liberation Sans', sans-serif" text-anchor="start" fill="#222">0.8×10<tspan font-size="7.4" dy="-3.7">7</tspan></text>
<text x="252.40" y="527.4" font-size="10.5" font-family="'Liberation Sans', sans-serif" text-anchor="start" fill="#222">1×10<tspan font-size="7.4" dy="-3.7">7</tspan></text>
</svg></body></html>
